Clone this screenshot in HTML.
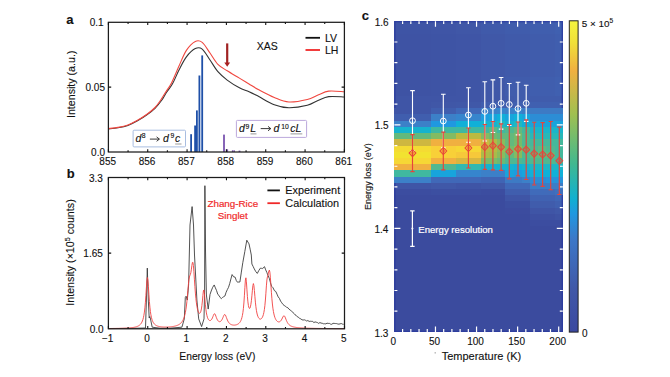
<!DOCTYPE html>
<html><head><meta charset="utf-8"><style>
html,body{margin:0;padding:0;background:#fff;width:670px;height:377px;overflow:hidden}
svg{display:block;font-family:"Liberation Sans",sans-serif}
</style></head><body>
<svg width="670" height="377" viewBox="0 0 670 377">
<g fill="none" stroke-linejoin="round">
<path d="M108.40,129.00 C110.00,128.80 114.75,128.40 118.00,127.80 C121.25,127.20 124.65,126.57 127.90,125.40 C131.15,124.23 134.27,122.62 137.50,120.80 C140.73,118.98 144.38,116.58 147.30,114.50 C150.22,112.42 152.57,110.72 155.00,108.30 C157.43,105.88 160.05,102.55 161.90,100.00 C163.75,97.45 164.33,95.70 166.10,93.00 C167.87,90.30 170.35,87.63 172.50,83.80 C174.65,79.97 176.68,74.48 179.00,70.00 C181.32,65.52 183.68,60.47 186.40,56.90 C189.12,53.33 192.67,49.90 195.30,48.60 C197.93,47.30 199.75,47.20 202.20,49.10 C204.65,51.00 207.38,56.23 210.00,60.00 C212.62,63.77 215.03,68.35 217.90,71.70 C220.77,75.05 223.62,77.42 227.20,80.10 C230.78,82.78 235.75,85.87 239.40,87.80 C243.05,89.73 245.87,90.23 249.10,91.70 C252.33,93.17 254.60,94.43 258.80,96.60 C263.00,98.77 269.28,102.83 274.30,104.70 C279.32,106.57 283.40,107.70 288.90,107.80 C294.40,107.90 302.45,106.52 307.30,105.30 C312.15,104.08 314.43,101.95 318.00,100.50 C321.57,99.05 324.33,97.18 328.70,96.60 C333.07,96.02 341.62,96.93 344.20,97.00" stroke="#333" stroke-width="1.1"/>
<path d="M108.40,128.60 C110.00,128.40 114.75,128.00 118.00,127.40 C121.25,126.80 124.65,126.18 127.90,125.00 C131.15,123.82 134.27,122.13 137.50,120.30 C140.73,118.47 144.38,116.13 147.30,114.00 C150.22,111.87 152.82,109.75 155.00,107.50 C157.18,105.25 158.72,102.92 160.40,100.50 C162.08,98.08 163.25,95.93 165.10,93.00 C166.95,90.07 169.18,87.40 171.50,82.90 C173.82,78.40 176.52,71.42 179.00,66.00 C181.48,60.58 183.68,54.48 186.40,50.40 C189.12,46.32 192.67,42.83 195.30,41.50 C197.93,40.17 199.75,40.48 202.20,42.40 C204.65,44.32 207.38,49.35 210.00,53.00 C212.62,56.65 215.03,61.33 217.90,64.30 C220.77,67.27 223.62,68.50 227.20,70.80 C230.78,73.10 235.77,75.90 239.40,78.10 C243.03,80.30 245.77,82.05 249.00,84.00 C252.23,85.95 254.58,87.55 258.80,89.80 C263.02,92.05 269.28,95.47 274.30,97.50 C279.32,99.53 283.40,101.67 288.90,102.00 C294.40,102.33 302.45,100.67 307.30,99.50 C312.15,98.33 314.43,96.40 318.00,95.00 C321.57,93.60 324.33,91.65 328.70,91.10 C333.07,90.55 341.62,91.60 344.20,91.70" stroke="#f0473f" stroke-width="1.1"/>
</g>
<rect x="190.20" y="134.20" width="1.8" height="17.80" fill="#1f50a8"/>
<rect x="194.20" y="125.50" width="1.8" height="26.50" fill="#1f50a8"/>
<rect x="196.00" y="110.40" width="1.8" height="41.60" fill="#1f50a8"/>
<rect x="198.50" y="75.50" width="1.8" height="76.50" fill="#1f50a8"/>
<rect x="201.30" y="55.40" width="1.8" height="96.60" fill="#1f50a8"/>
<rect x="223.10" y="134.60" width="1.8" height="17.40" fill="#7a55b0"/>
<rect x="226.50" y="149.30" width="1.6" height="2.70" fill="#7a55b0"/>
<rect x="231.90" y="150.30" width="1.4" height="1.70" fill="#7a55b0"/>
<rect x="233.50" y="150.30" width="1.4" height="1.70" fill="#7a55b0"/>
<rect x="238.60" y="150.60" width="1.8" height="1.40" fill="#7a55b0"/>
<path d="M227.2,43.4 V63.5" stroke="#a02222" stroke-width="2.2"/>
<path d="M224.3,62.6 L230.1,62.6 L227.2,66.8 Z" fill="#a82020"/>
<rect x="108.4" y="22.3" width="235.99999999999997" height="129.7" fill="none" stroke="#1c1c1c" stroke-width="1.25"/>
<path d="M108.40,152.0 v-2.8 M108.40,22.3 v2.8 M128.07,152.0 v-1.8 M128.07,22.3 v1.8 M147.73,152.0 v-2.8 M147.73,22.3 v2.8 M167.40,152.0 v-1.8 M167.40,22.3 v1.8 M187.07,152.0 v-2.8 M187.07,22.3 v2.8 M206.73,152.0 v-1.8 M206.73,22.3 v1.8 M226.40,152.0 v-2.8 M226.40,22.3 v2.8 M246.07,152.0 v-1.8 M246.07,22.3 v1.8 M265.73,152.0 v-2.8 M265.73,22.3 v2.8 M285.40,152.0 v-1.8 M285.40,22.3 v1.8 M305.07,152.0 v-2.8 M305.07,22.3 v2.8 M324.73,152.0 v-1.8 M324.73,22.3 v1.8 M344.40,152.0 v-2.8 M344.40,22.3 v2.8 M108.4,87.15 h2.8 M344.4,87.15 h-2.8" stroke="#111" stroke-width="1.1"/>
<g fill="none" stroke-linejoin="round">
<path d="M108.40,328.60 L130.00,328.40 L145.50,328.00 L146.40,300.00 L147.30,268.10 L148.30,300.00 L149.20,318.00 L149.80,316.50 L150.50,319.00 L152.20,327.20 L160.00,328.20 L170.00,328.20 L181.90,327.20 L184.30,318.90 L185.30,297.50 L186.10,296.20 L187.30,300.00 L188.60,285.00 L189.30,255.00 L190.00,225.00 L192.10,206.60 L193.50,225.00 L194.50,255.00 L196.90,300.00 L198.70,318.90 L201.60,326.60 L204.00,318.90 L204.60,290.00 L204.90,185.70 L205.50,250.00 L206.40,295.00 L208.20,309.07 L210.00,294.55 L211.20,291.00 L212.70,287.29 L214.20,284.95 L215.40,287.89 L216.60,290.66 L217.80,294.41 L218.97,295.40 L220.13,297.51 L221.30,298.64 L222.50,297.47 L223.70,296.70 L224.90,296.02 L226.10,292.31 L227.30,289.64 L228.50,287.37 L229.70,283.62 L230.90,278.97 L232.10,274.57 L233.60,276.82 L235.10,277.11 L236.30,280.57 L237.50,282.23 L238.70,282.04 L239.90,282.00 L241.35,272.10 L242.80,262.61 L244.80,251.58 L246.80,240.21 L249.00,243.88 L250.15,249.18 L251.30,255.06 L251.90,264.03 L253.10,266.38 L254.30,268.92 L255.80,271.63 L257.30,273.41 L258.80,270.56 L260.30,268.21 L261.50,268.34 L262.70,268.44 L264.50,266.68 L265.70,269.86 L266.90,272.57 L268.10,275.70 L269.30,278.33 L270.45,282.64 L271.60,286.30 L273.00,287.72 L274.40,290.62 L275.80,291.50 L277.00,294.17 L278.20,296.89 L279.40,298.39 L280.60,301.11 L281.80,302.80 L283.00,304.49 L284.20,305.49 L285.40,306.12 L286.60,307.39 L287.78,307.66 L288.97,309.15 L290.15,310.02 L291.33,311.00 L292.52,311.84 L293.70,313.34 L294.88,314.68 L296.05,315.27 L297.22,316.71 L298.40,317.13 L299.58,318.44 L300.76,318.85 L301.94,319.78 L303.12,320.04 L304.30,319.82 L305.50,320.30 L306.70,321.02 L307.90,320.53 L309.10,321.45 L310.30,321.25 L311.50,321.36 L312.70,321.46 L313.90,322.56 L315.10,321.91 L316.30,322.24 L317.50,322.60 L318.70,323.41 L319.90,322.55 L321.09,323.09 L322.28,323.28 L323.47,323.78 L324.66,323.76 L325.85,323.87 L327.04,323.17 L328.23,323.41 L329.42,323.40 L330.61,324.14 L331.80,324.30 L332.99,323.31 L334.18,323.40 L335.37,323.53 L336.56,323.59 L337.75,323.98 L338.94,324.18 L340.13,323.81 L341.32,323.54 L342.51,324.13 L343.70,324.30" stroke="#333" stroke-width="0.85"/>
<path d="M108.40,328.51 L108.90,328.51 L109.40,328.50 L109.90,328.49 L110.40,328.49 L110.90,328.48 L111.40,328.48 L111.90,328.47 L112.40,328.46 L112.90,328.46 L113.40,328.45 L113.90,328.44 L114.40,328.43 L114.90,328.43 L115.40,328.42 L115.90,328.41 L116.40,328.40 L116.90,328.39 L117.40,328.38 L117.90,328.37 L118.40,328.36 L118.90,328.35 L119.40,328.34 L119.90,328.32 L120.40,328.31 L120.90,328.30 L121.40,328.28 L121.90,328.27 L122.40,328.25 L122.90,328.24 L123.40,328.22 L123.90,328.20 L124.40,328.18 L124.90,328.16 L125.40,328.14 L125.90,328.11 L126.40,328.09 L126.90,328.06 L127.40,328.03 L127.90,328.00 L128.40,327.97 L128.90,327.93 L129.40,327.89 L129.90,327.85 L130.40,327.81 L130.90,327.76 L131.40,327.70 L131.90,327.65 L132.40,327.58 L132.90,327.51 L133.40,327.44 L133.90,327.35 L134.40,327.26 L134.90,327.15 L135.40,327.03 L135.90,326.90 L136.40,326.75 L136.90,326.59 L137.40,326.39 L137.90,326.17 L138.40,325.92 L138.90,325.62 L139.40,325.27 L139.90,324.85 L140.40,324.36 L140.90,323.76 L141.40,323.02 L141.90,322.12 L142.40,320.99 L142.90,319.55 L143.40,317.69 L143.90,315.27 L144.40,312.07 L144.90,307.84 L145.40,302.29 L145.90,295.34 L146.40,287.51 L146.90,280.61 L147.40,277.53 L147.90,279.97 L148.40,286.54 L148.90,294.37 L149.40,301.46 L149.90,307.16 L150.40,311.52 L150.90,314.81 L151.40,317.30 L151.90,319.20 L152.40,320.66 L152.90,321.81 L153.40,322.72 L153.90,323.45 L154.40,324.05 L154.90,324.54 L155.40,324.94 L155.90,325.28 L156.40,325.56 L156.90,325.80 L157.40,326.01 L157.90,326.18 L158.40,326.33 L158.90,326.46 L159.40,326.57 L159.90,326.66 L160.40,326.74 L160.90,326.81 L161.40,326.87 L161.90,326.92 L162.40,326.96 L162.90,326.99 L163.40,327.02 L163.90,327.04 L164.40,327.05 L164.90,327.06 L165.40,327.07 L165.90,327.06 L166.40,327.06 L166.90,327.05 L167.40,327.03 L167.90,327.01 L168.40,326.99 L168.90,326.96 L169.40,326.92 L169.90,326.88 L170.40,326.84 L170.90,326.79 L171.40,326.73 L171.90,326.67 L172.40,326.60 L172.90,326.52 L173.40,326.43 L173.90,326.34 L174.40,326.23 L174.90,326.12 L175.40,325.99 L175.90,325.85 L176.40,325.69 L176.90,325.52 L177.40,325.32 L177.90,325.10 L178.40,324.86 L178.90,324.59 L179.40,324.28 L179.90,323.92 L180.40,323.52 L180.90,323.06 L181.40,322.53 L181.90,321.91 L182.40,321.18 L182.90,320.32 L183.40,319.30 L183.90,318.06 L184.40,316.56 L184.90,314.72 L185.40,312.43 L185.90,309.58 L186.40,306.02 L186.90,301.62 L187.40,296.35 L187.90,290.44 L188.40,284.60 L188.90,279.87 L189.40,276.97 L189.90,275.55 L190.40,274.41 L190.90,272.41 L191.40,269.21 L191.90,265.42 L192.40,262.52 L192.90,262.25 L193.40,265.52 L193.90,271.68 L194.40,279.18 L194.90,286.59 L195.40,293.11 L195.90,298.51 L196.40,302.82 L196.90,306.18 L197.40,308.75 L197.90,310.68 L198.40,312.05 L198.90,312.92 L199.40,313.32 L199.90,313.22 L200.40,312.56 L200.90,311.20 L201.40,308.96 L201.90,305.59 L202.40,300.97 L202.90,295.53 L203.40,290.99 L203.90,289.94 L204.40,293.29 L204.90,299.05 L205.40,304.79 L205.90,309.45 L206.40,312.92 L206.90,315.44 L207.40,317.25 L207.90,318.54 L208.40,319.45 L208.90,320.05 L209.40,320.41 L209.90,320.55 L210.40,320.48 L210.90,320.20 L211.40,319.70 L211.90,318.94 L212.40,317.93 L212.90,316.71 L213.40,315.40 L213.90,314.28 L214.40,313.71 L214.90,313.93 L215.40,314.86 L215.90,316.20 L216.40,317.60 L216.90,318.86 L217.40,319.87 L217.90,320.64 L218.40,321.18 L218.90,321.52 L219.40,321.68 L219.90,321.67 L220.40,321.48 L220.90,321.12 L221.40,320.56 L221.90,319.80 L222.40,318.82 L222.90,317.67 L223.40,316.45 L223.90,315.33 L224.40,314.60 L224.90,314.50 L225.40,315.08 L225.90,316.17 L226.40,317.52 L226.90,318.88 L227.40,320.11 L227.90,321.16 L228.40,322.04 L228.90,322.74 L229.40,323.31 L229.90,323.77 L230.40,324.13 L230.90,324.42 L231.40,324.64 L231.90,324.82 L232.40,324.94 L232.90,325.03 L233.40,325.09 L233.90,325.11 L234.40,325.11 L234.90,325.07 L235.40,325.00 L235.90,324.90 L236.40,324.77 L236.90,324.60 L237.40,324.39 L237.90,324.12 L238.40,323.80 L238.90,323.40 L239.40,322.90 L239.90,322.29 L240.40,321.52 L240.90,320.55 L241.40,319.29 L241.90,317.65 L242.40,315.47 L242.90,312.52 L243.40,308.48 L243.90,302.98 L244.40,295.75 L244.90,287.33 L245.40,280.08 L245.90,277.81 L246.40,281.84 L246.90,289.20 L247.40,296.37 L247.90,301.84 L248.40,305.49 L248.90,307.60 L249.40,308.44 L249.90,308.18 L250.40,306.83 L250.90,304.34 L251.40,300.64 L251.90,295.77 L252.40,290.26 L252.90,285.52 L253.40,283.57 L253.90,285.54 L254.40,290.53 L254.90,296.56 L255.40,302.16 L255.90,306.76 L256.40,310.31 L256.90,312.99 L257.40,314.99 L257.90,316.46 L258.40,317.53 L258.90,318.29 L259.40,318.78 L259.90,319.04 L260.40,319.11 L260.90,318.98 L261.40,318.64 L261.90,318.08 L262.40,317.25 L262.90,316.09 L263.40,314.50 L263.90,312.34 L264.40,309.39 L264.90,305.38 L265.40,300.00 L265.90,293.22 L266.40,285.88 L266.90,279.99 L267.40,276.87 L267.90,275.25 L268.40,273.28 L268.90,270.99 L269.40,270.09 L269.90,272.30 L270.40,277.76 L270.90,284.99 L271.40,292.31 L271.90,298.75 L272.40,304.01 L272.90,308.18 L273.40,311.42 L273.90,313.96 L274.40,315.94 L274.90,317.49 L275.40,318.71 L275.90,319.68 L276.40,320.43 L276.90,321.01 L277.40,321.43 L277.90,321.72 L278.40,321.89 L278.90,321.93 L279.40,321.84 L279.90,321.61 L280.40,321.23 L280.90,320.67 L281.40,319.94 L281.90,319.03 L282.40,317.99 L282.90,316.95 L283.40,316.12 L283.90,315.72 L284.40,315.93 L284.90,316.71 L285.40,317.86 L285.90,319.16 L286.40,320.42 L286.90,321.55 L287.40,322.51 L287.90,323.32 L288.40,323.99 L288.90,324.55 L289.40,325.01 L289.90,325.39 L290.40,325.72 L290.90,325.99 L291.40,326.23 L291.90,326.43 L292.40,326.61 L292.90,326.76 L293.40,326.90 L293.90,327.02 L294.40,327.12 L294.90,327.22 L295.40,327.31 L295.90,327.38 L296.40,327.46 L296.90,327.52 L297.40,327.58 L297.90,327.63 L298.40,327.68 L298.90,327.73 L299.40,327.77 L299.90,327.81 L300.40,327.85 L300.90,327.89 L301.40,327.92 L301.90,327.95 L302.40,327.98 L302.90,328.00 L303.40,328.03 L303.90,328.05 L304.40,328.08 L304.90,328.10 L305.40,328.12 L305.90,328.14 L306.40,328.16 L306.90,328.17 L307.40,328.19 L307.90,328.21 L308.40,328.22 L308.90,328.24 L309.40,328.25 L309.90,328.26 L310.40,328.28 L310.90,328.29 L311.40,328.30 L311.90,328.31 L312.40,328.32 L312.90,328.33 L313.40,328.34 L313.90,328.35 L314.40,328.36 L314.90,328.37 L315.40,328.38 L315.90,328.39 L316.40,328.40 L316.90,328.40 L317.40,328.41 L317.90,328.42 L318.40,328.43 L318.90,328.43 L319.40,328.44 L319.90,328.45 L320.40,328.45 L320.90,328.46 L321.40,328.46 L321.90,328.47 L322.40,328.48 L322.90,328.48 L323.40,328.49 L323.90,328.49 L324.40,328.50 L324.90,328.50 L325.40,328.51 L325.90,328.51 L326.40,328.52 L326.90,328.52 L327.40,328.52 L327.90,328.53 L328.40,328.53 L328.90,328.54 L329.40,328.54 L329.90,328.54 L330.40,328.55 L330.90,328.55 L331.40,328.55 L331.90,328.56 L332.40,328.56 L332.90,328.56 L333.40,328.57 L333.90,328.57 L334.40,328.57 L334.90,328.58 L335.40,328.58 L335.90,328.58 L336.40,328.59 L336.90,328.59 L337.40,328.59 L337.90,328.59 L338.40,328.60 L338.90,328.60 L339.40,328.60 L339.90,328.60 L340.40,328.61 L340.90,328.61 L341.40,328.61 L341.90,328.61 L342.40,328.61 L342.90,328.62 L343.40,328.62 L343.90,328.62 L344.40,328.62" stroke="#f04040" stroke-width="0.9"/>
</g>
<rect x="108.4" y="177.5" width="236.1" height="151.3" fill="none" stroke="#1c1c1c" stroke-width="1.25"/>
<path d="M108.40,328.8 v-2.8 M108.40,177.5 v2.8 M128.08,328.8 v-1.8 M128.08,177.5 v1.8 M147.75,328.8 v-2.8 M147.75,177.5 v2.8 M167.43,328.8 v-1.8 M167.43,177.5 v1.8 M187.10,328.8 v-2.8 M187.10,177.5 v2.8 M206.78,328.8 v-1.8 M206.78,177.5 v1.8 M226.45,328.8 v-2.8 M226.45,177.5 v2.8 M246.12,328.8 v-1.8 M246.12,177.5 v1.8 M265.80,328.8 v-2.8 M265.80,177.5 v2.8 M285.48,328.8 v-1.8 M285.48,177.5 v1.8 M305.15,328.8 v-2.8 M305.15,177.5 v2.8 M324.82,328.8 v-1.8 M324.82,177.5 v1.8 M344.50,328.8 v-2.8 M344.50,177.5 v2.8 M108.4,253.15 h2.8 M344.5,253.15 h-2.8" stroke="#111" stroke-width="1.1"/>
<g shape-rendering="crispEdges">
<rect x="394.40" y="21.30" width="37.27" height="6.51" fill="#3e54a5"/>
<rect x="394.40" y="27.51" width="37.27" height="6.51" fill="#3e54a5"/>
<rect x="394.40" y="33.72" width="37.27" height="6.51" fill="#3e53a4"/>
<rect x="394.40" y="39.94" width="37.27" height="6.51" fill="#3e53a4"/>
<rect x="394.40" y="46.15" width="37.27" height="6.51" fill="#3e53a4"/>
<rect x="394.40" y="52.36" width="37.27" height="6.51" fill="#3e53a4"/>
<rect x="394.40" y="58.57" width="37.27" height="6.51" fill="#3e53a4"/>
<rect x="394.40" y="64.78" width="37.27" height="6.51" fill="#3e53a4"/>
<rect x="394.40" y="71.00" width="37.27" height="6.51" fill="#3e53a4"/>
<rect x="394.40" y="77.21" width="37.27" height="6.51" fill="#3e53a4"/>
<rect x="394.40" y="83.42" width="37.27" height="6.51" fill="#3e53a4"/>
<rect x="394.40" y="89.63" width="37.27" height="6.51" fill="#3e53a4"/>
<rect x="394.40" y="95.84" width="37.27" height="6.51" fill="#3f55a6"/>
<rect x="394.40" y="102.06" width="37.27" height="6.51" fill="#3f55a6"/>
<rect x="394.40" y="108.27" width="37.27" height="6.51" fill="#3f55a6"/>
<rect x="394.40" y="114.48" width="37.27" height="6.51" fill="#405eae"/>
<rect x="394.40" y="120.69" width="37.27" height="6.51" fill="#3c80c8"/>
<rect x="394.40" y="126.90" width="37.27" height="6.51" fill="#16b3ce"/>
<rect x="394.40" y="133.12" width="37.27" height="6.51" fill="#63b97d"/>
<rect x="394.40" y="139.33" width="37.27" height="6.51" fill="#ceb740"/>
<rect x="394.40" y="145.54" width="37.27" height="6.51" fill="#f4db33"/>
<rect x="394.40" y="151.75" width="37.27" height="6.51" fill="#f2e230"/>
<rect x="394.40" y="157.96" width="37.27" height="6.51" fill="#f6d735"/>
<rect x="394.40" y="164.18" width="37.27" height="6.51" fill="#f0b040"/>
<rect x="394.40" y="170.39" width="37.27" height="6.51" fill="#40b8a0"/>
<rect x="394.40" y="176.60" width="37.27" height="6.51" fill="#3c80c8"/>
<rect x="394.40" y="182.81" width="37.27" height="6.51" fill="#3f55a6"/>
<rect x="394.40" y="189.02" width="37.27" height="6.51" fill="#3c4da0"/>
<rect x="394.40" y="195.24" width="37.27" height="6.51" fill="#3b4b9e"/>
<rect x="394.40" y="201.45" width="37.27" height="6.51" fill="#3b4b9e"/>
<rect x="394.40" y="207.66" width="37.27" height="6.51" fill="#3b4b9e"/>
<rect x="394.40" y="213.87" width="37.27" height="6.51" fill="#3b4b9e"/>
<rect x="394.40" y="220.08" width="37.27" height="6.51" fill="#3b4b9e"/>
<rect x="394.40" y="226.30" width="37.27" height="6.51" fill="#3b4b9e"/>
<rect x="394.40" y="232.51" width="37.27" height="6.51" fill="#3b4b9e"/>
<rect x="394.40" y="238.72" width="37.27" height="6.51" fill="#3b4b9e"/>
<rect x="394.40" y="244.93" width="37.27" height="6.51" fill="#3b4b9e"/>
<rect x="394.40" y="251.14" width="37.27" height="6.51" fill="#3b4b9e"/>
<rect x="394.40" y="257.36" width="37.27" height="6.51" fill="#3b4b9e"/>
<rect x="394.40" y="263.57" width="37.27" height="6.51" fill="#3b4b9e"/>
<rect x="394.40" y="269.78" width="37.27" height="6.51" fill="#3b4b9e"/>
<rect x="394.40" y="275.99" width="37.27" height="6.51" fill="#3b4b9e"/>
<rect x="394.40" y="282.20" width="37.27" height="6.51" fill="#3b4b9e"/>
<rect x="394.40" y="288.42" width="37.27" height="6.51" fill="#3b4b9e"/>
<rect x="394.40" y="294.63" width="37.27" height="6.51" fill="#3b4b9e"/>
<rect x="394.40" y="300.84" width="37.27" height="6.51" fill="#3b4b9e"/>
<rect x="394.40" y="307.05" width="37.27" height="6.51" fill="#3b4b9e"/>
<rect x="394.40" y="313.26" width="37.27" height="6.51" fill="#3b4b9e"/>
<rect x="394.40" y="319.48" width="37.27" height="6.51" fill="#3b4b9e"/>
<rect x="394.40" y="325.69" width="37.27" height="6.51" fill="#3b4b9e"/>
<rect x="431.37" y="21.30" width="24.94" height="6.51" fill="#3f55a6"/>
<rect x="431.37" y="27.51" width="24.94" height="6.51" fill="#3f55a6"/>
<rect x="431.37" y="33.72" width="24.94" height="6.51" fill="#3e54a5"/>
<rect x="431.37" y="39.94" width="24.94" height="6.51" fill="#3e54a5"/>
<rect x="431.37" y="46.15" width="24.94" height="6.51" fill="#3e54a5"/>
<rect x="431.37" y="52.36" width="24.94" height="6.51" fill="#3e54a5"/>
<rect x="431.37" y="58.57" width="24.94" height="6.51" fill="#3e54a5"/>
<rect x="431.37" y="64.78" width="24.94" height="6.51" fill="#3e54a5"/>
<rect x="431.37" y="71.00" width="24.94" height="6.51" fill="#3e54a5"/>
<rect x="431.37" y="77.21" width="24.94" height="6.51" fill="#3e54a5"/>
<rect x="431.37" y="83.42" width="24.94" height="6.51" fill="#3e54a5"/>
<rect x="431.37" y="89.63" width="24.94" height="6.51" fill="#3e54a5"/>
<rect x="431.37" y="95.84" width="24.94" height="6.51" fill="#3f55a6"/>
<rect x="431.37" y="102.06" width="24.94" height="6.51" fill="#4057a7"/>
<rect x="431.37" y="108.27" width="24.94" height="6.51" fill="#405eae"/>
<rect x="431.37" y="114.48" width="24.94" height="6.51" fill="#3c80c8"/>
<rect x="431.37" y="120.69" width="24.94" height="6.51" fill="#2098e0"/>
<rect x="431.37" y="126.90" width="24.94" height="6.51" fill="#40b8a0"/>
<rect x="431.37" y="133.12" width="24.94" height="6.51" fill="#83bb62"/>
<rect x="431.37" y="139.33" width="24.94" height="6.51" fill="#f0b040"/>
<rect x="431.37" y="145.54" width="24.94" height="6.51" fill="#f8d038"/>
<rect x="431.37" y="151.75" width="24.94" height="6.51" fill="#f8d038"/>
<rect x="431.37" y="157.96" width="24.94" height="6.51" fill="#f0b040"/>
<rect x="431.37" y="164.18" width="24.94" height="6.51" fill="#50b890"/>
<rect x="431.37" y="170.39" width="24.94" height="6.51" fill="#18a4dc"/>
<rect x="431.37" y="176.60" width="24.94" height="6.51" fill="#4068b8"/>
<rect x="431.37" y="182.81" width="24.94" height="6.51" fill="#4058a8"/>
<rect x="431.37" y="189.02" width="24.94" height="6.51" fill="#3c4fa1"/>
<rect x="431.37" y="195.24" width="24.94" height="6.51" fill="#3b4b9e"/>
<rect x="431.37" y="201.45" width="24.94" height="6.51" fill="#3b4b9e"/>
<rect x="431.37" y="207.66" width="24.94" height="6.51" fill="#3b4b9e"/>
<rect x="431.37" y="213.87" width="24.94" height="6.51" fill="#3b4b9e"/>
<rect x="431.37" y="220.08" width="24.94" height="6.51" fill="#3b4b9e"/>
<rect x="431.37" y="226.30" width="24.94" height="6.51" fill="#3b4b9e"/>
<rect x="431.37" y="232.51" width="24.94" height="6.51" fill="#3b4b9e"/>
<rect x="431.37" y="238.72" width="24.94" height="6.51" fill="#3b4b9e"/>
<rect x="431.37" y="244.93" width="24.94" height="6.51" fill="#3b4b9e"/>
<rect x="431.37" y="251.14" width="24.94" height="6.51" fill="#3b4b9e"/>
<rect x="431.37" y="257.36" width="24.94" height="6.51" fill="#3b4b9e"/>
<rect x="431.37" y="263.57" width="24.94" height="6.51" fill="#3b4b9e"/>
<rect x="431.37" y="269.78" width="24.94" height="6.51" fill="#3b4b9e"/>
<rect x="431.37" y="275.99" width="24.94" height="6.51" fill="#3b4b9e"/>
<rect x="431.37" y="282.20" width="24.94" height="6.51" fill="#3b4b9e"/>
<rect x="431.37" y="288.42" width="24.94" height="6.51" fill="#3b4b9e"/>
<rect x="431.37" y="294.63" width="24.94" height="6.51" fill="#3b4b9e"/>
<rect x="431.37" y="300.84" width="24.94" height="6.51" fill="#3b4b9e"/>
<rect x="431.37" y="307.05" width="24.94" height="6.51" fill="#3b4b9e"/>
<rect x="431.37" y="313.26" width="24.94" height="6.51" fill="#3b4b9e"/>
<rect x="431.37" y="319.48" width="24.94" height="6.51" fill="#3b4b9e"/>
<rect x="431.37" y="325.69" width="24.94" height="6.51" fill="#3b4b9e"/>
<rect x="456.01" y="21.30" width="24.94" height="6.51" fill="#4057a7"/>
<rect x="456.01" y="27.51" width="24.94" height="6.51" fill="#4057a7"/>
<rect x="456.01" y="33.72" width="24.94" height="6.51" fill="#3f55a6"/>
<rect x="456.01" y="39.94" width="24.94" height="6.51" fill="#3f55a6"/>
<rect x="456.01" y="46.15" width="24.94" height="6.51" fill="#3f55a6"/>
<rect x="456.01" y="52.36" width="24.94" height="6.51" fill="#3f55a6"/>
<rect x="456.01" y="58.57" width="24.94" height="6.51" fill="#3f55a6"/>
<rect x="456.01" y="64.78" width="24.94" height="6.51" fill="#3f55a6"/>
<rect x="456.01" y="71.00" width="24.94" height="6.51" fill="#3f55a6"/>
<rect x="456.01" y="77.21" width="24.94" height="6.51" fill="#3f55a6"/>
<rect x="456.01" y="83.42" width="24.94" height="6.51" fill="#3f55a6"/>
<rect x="456.01" y="89.63" width="24.94" height="6.51" fill="#3f55a6"/>
<rect x="456.01" y="95.84" width="24.94" height="6.51" fill="#3f55a6"/>
<rect x="456.01" y="102.06" width="24.94" height="6.51" fill="#4058a8"/>
<rect x="456.01" y="108.27" width="24.94" height="6.51" fill="#4068b8"/>
<rect x="456.01" y="114.48" width="24.94" height="6.51" fill="#3685cd"/>
<rect x="456.01" y="120.69" width="24.94" height="6.51" fill="#10b0d8"/>
<rect x="456.01" y="126.90" width="24.94" height="6.51" fill="#40b8a0"/>
<rect x="456.01" y="133.12" width="24.94" height="6.51" fill="#baba40"/>
<rect x="456.01" y="139.33" width="24.94" height="6.51" fill="#f0b040"/>
<rect x="456.01" y="145.54" width="24.94" height="6.51" fill="#f6d735"/>
<rect x="456.01" y="151.75" width="24.94" height="6.51" fill="#f6c83a"/>
<rect x="456.01" y="157.96" width="24.94" height="6.51" fill="#d8b640"/>
<rect x="456.01" y="164.18" width="24.94" height="6.51" fill="#30b8b0"/>
<rect x="456.01" y="170.39" width="24.94" height="6.51" fill="#3685cd"/>
<rect x="456.01" y="176.60" width="24.94" height="6.51" fill="#4068b8"/>
<rect x="456.01" y="182.81" width="24.94" height="6.51" fill="#3f55a6"/>
<rect x="456.01" y="189.02" width="24.94" height="6.51" fill="#3c4fa1"/>
<rect x="456.01" y="195.24" width="24.94" height="6.51" fill="#3b4b9e"/>
<rect x="456.01" y="201.45" width="24.94" height="6.51" fill="#3b4b9e"/>
<rect x="456.01" y="207.66" width="24.94" height="6.51" fill="#3b4b9e"/>
<rect x="456.01" y="213.87" width="24.94" height="6.51" fill="#3b4b9e"/>
<rect x="456.01" y="220.08" width="24.94" height="6.51" fill="#3b4b9e"/>
<rect x="456.01" y="226.30" width="24.94" height="6.51" fill="#3b4b9e"/>
<rect x="456.01" y="232.51" width="24.94" height="6.51" fill="#3b4b9e"/>
<rect x="456.01" y="238.72" width="24.94" height="6.51" fill="#3b4b9e"/>
<rect x="456.01" y="244.93" width="24.94" height="6.51" fill="#3b4b9e"/>
<rect x="456.01" y="251.14" width="24.94" height="6.51" fill="#3b4b9e"/>
<rect x="456.01" y="257.36" width="24.94" height="6.51" fill="#3b4b9e"/>
<rect x="456.01" y="263.57" width="24.94" height="6.51" fill="#3b4b9e"/>
<rect x="456.01" y="269.78" width="24.94" height="6.51" fill="#3b4b9e"/>
<rect x="456.01" y="275.99" width="24.94" height="6.51" fill="#3b4b9e"/>
<rect x="456.01" y="282.20" width="24.94" height="6.51" fill="#3b4b9e"/>
<rect x="456.01" y="288.42" width="24.94" height="6.51" fill="#3b4b9e"/>
<rect x="456.01" y="294.63" width="24.94" height="6.51" fill="#3b4b9e"/>
<rect x="456.01" y="300.84" width="24.94" height="6.51" fill="#3b4b9e"/>
<rect x="456.01" y="307.05" width="24.94" height="6.51" fill="#3b4b9e"/>
<rect x="456.01" y="313.26" width="24.94" height="6.51" fill="#3b4b9e"/>
<rect x="456.01" y="319.48" width="24.94" height="6.51" fill="#3b4b9e"/>
<rect x="456.01" y="325.69" width="24.94" height="6.51" fill="#3b4b9e"/>
<rect x="480.65" y="21.30" width="8.51" height="6.51" fill="#405aaa"/>
<rect x="480.65" y="27.51" width="8.51" height="6.51" fill="#405aaa"/>
<rect x="480.65" y="33.72" width="8.51" height="6.51" fill="#4058a8"/>
<rect x="480.65" y="39.94" width="8.51" height="6.51" fill="#4058a8"/>
<rect x="480.65" y="46.15" width="8.51" height="6.51" fill="#4058a8"/>
<rect x="480.65" y="52.36" width="8.51" height="6.51" fill="#4058a8"/>
<rect x="480.65" y="58.57" width="8.51" height="6.51" fill="#4058a8"/>
<rect x="480.65" y="64.78" width="8.51" height="6.51" fill="#4058a8"/>
<rect x="480.65" y="71.00" width="8.51" height="6.51" fill="#4058a8"/>
<rect x="480.65" y="77.21" width="8.51" height="6.51" fill="#4058a8"/>
<rect x="480.65" y="83.42" width="8.51" height="6.51" fill="#4058a8"/>
<rect x="480.65" y="89.63" width="8.51" height="6.51" fill="#4058a8"/>
<rect x="480.65" y="95.84" width="8.51" height="6.51" fill="#4058a8"/>
<rect x="480.65" y="102.06" width="8.51" height="6.51" fill="#405eae"/>
<rect x="480.65" y="108.27" width="8.51" height="6.51" fill="#3c80c8"/>
<rect x="480.65" y="114.48" width="8.51" height="6.51" fill="#1d9cdf"/>
<rect x="480.65" y="120.69" width="8.51" height="6.51" fill="#16b3ce"/>
<rect x="480.65" y="126.90" width="8.51" height="6.51" fill="#40b8a0"/>
<rect x="480.65" y="133.12" width="8.51" height="6.51" fill="#83bb62"/>
<rect x="480.65" y="139.33" width="8.51" height="6.51" fill="#ceb740"/>
<rect x="480.65" y="145.54" width="8.51" height="6.51" fill="#baba40"/>
<rect x="480.65" y="151.75" width="8.51" height="6.51" fill="#aebb47"/>
<rect x="480.65" y="157.96" width="8.51" height="6.51" fill="#7dbb67"/>
<rect x="480.65" y="164.18" width="8.51" height="6.51" fill="#16b3ce"/>
<rect x="480.65" y="170.39" width="8.51" height="6.51" fill="#3c80c8"/>
<rect x="480.65" y="176.60" width="8.51" height="6.51" fill="#4064b4"/>
<rect x="480.65" y="182.81" width="8.51" height="6.51" fill="#4058a8"/>
<rect x="480.65" y="189.02" width="8.51" height="6.51" fill="#3c4da0"/>
<rect x="480.65" y="195.24" width="8.51" height="6.51" fill="#3b4b9e"/>
<rect x="480.65" y="201.45" width="8.51" height="6.51" fill="#3b4b9e"/>
<rect x="480.65" y="207.66" width="8.51" height="6.51" fill="#3b4b9e"/>
<rect x="480.65" y="213.87" width="8.51" height="6.51" fill="#3b4b9e"/>
<rect x="480.65" y="220.08" width="8.51" height="6.51" fill="#3b4b9e"/>
<rect x="480.65" y="226.30" width="8.51" height="6.51" fill="#3b4b9e"/>
<rect x="480.65" y="232.51" width="8.51" height="6.51" fill="#3b4b9e"/>
<rect x="480.65" y="238.72" width="8.51" height="6.51" fill="#3b4b9e"/>
<rect x="480.65" y="244.93" width="8.51" height="6.51" fill="#3b4b9e"/>
<rect x="480.65" y="251.14" width="8.51" height="6.51" fill="#3b4b9e"/>
<rect x="480.65" y="257.36" width="8.51" height="6.51" fill="#3b4b9e"/>
<rect x="480.65" y="263.57" width="8.51" height="6.51" fill="#3b4b9e"/>
<rect x="480.65" y="269.78" width="8.51" height="6.51" fill="#3b4b9e"/>
<rect x="480.65" y="275.99" width="8.51" height="6.51" fill="#3b4b9e"/>
<rect x="480.65" y="282.20" width="8.51" height="6.51" fill="#3b4b9e"/>
<rect x="480.65" y="288.42" width="8.51" height="6.51" fill="#3b4b9e"/>
<rect x="480.65" y="294.63" width="8.51" height="6.51" fill="#3b4b9e"/>
<rect x="480.65" y="300.84" width="8.51" height="6.51" fill="#3b4b9e"/>
<rect x="480.65" y="307.05" width="8.51" height="6.51" fill="#3b4b9e"/>
<rect x="480.65" y="313.26" width="8.51" height="6.51" fill="#3b4b9e"/>
<rect x="480.65" y="319.48" width="8.51" height="6.51" fill="#3b4b9e"/>
<rect x="480.65" y="325.69" width="8.51" height="6.51" fill="#3b4b9e"/>
<rect x="488.87" y="21.30" width="8.51" height="6.51" fill="#405aaa"/>
<rect x="488.87" y="27.51" width="8.51" height="6.51" fill="#405aaa"/>
<rect x="488.87" y="33.72" width="8.51" height="6.51" fill="#4058a8"/>
<rect x="488.87" y="39.94" width="8.51" height="6.51" fill="#4058a8"/>
<rect x="488.87" y="46.15" width="8.51" height="6.51" fill="#4058a8"/>
<rect x="488.87" y="52.36" width="8.51" height="6.51" fill="#4058a8"/>
<rect x="488.87" y="58.57" width="8.51" height="6.51" fill="#4058a8"/>
<rect x="488.87" y="64.78" width="8.51" height="6.51" fill="#4058a8"/>
<rect x="488.87" y="71.00" width="8.51" height="6.51" fill="#4058a8"/>
<rect x="488.87" y="77.21" width="8.51" height="6.51" fill="#4058a8"/>
<rect x="488.87" y="83.42" width="8.51" height="6.51" fill="#4058a8"/>
<rect x="488.87" y="89.63" width="8.51" height="6.51" fill="#4058a8"/>
<rect x="488.87" y="95.84" width="8.51" height="6.51" fill="#4058a8"/>
<rect x="488.87" y="102.06" width="8.51" height="6.51" fill="#405eae"/>
<rect x="488.87" y="108.27" width="8.51" height="6.51" fill="#3c80c8"/>
<rect x="488.87" y="114.48" width="8.51" height="6.51" fill="#18a4dc"/>
<rect x="488.87" y="120.69" width="8.51" height="6.51" fill="#16b3ce"/>
<rect x="488.87" y="126.90" width="8.51" height="6.51" fill="#5db983"/>
<rect x="488.87" y="133.12" width="8.51" height="6.51" fill="#70ba70"/>
<rect x="488.87" y="139.33" width="8.51" height="6.51" fill="#aebb47"/>
<rect x="488.87" y="145.54" width="8.51" height="6.51" fill="#b4ba43"/>
<rect x="488.87" y="151.75" width="8.51" height="6.51" fill="#a8bb4a"/>
<rect x="488.87" y="157.96" width="8.51" height="6.51" fill="#7dbb67"/>
<rect x="488.87" y="164.18" width="8.51" height="6.51" fill="#16b3ce"/>
<rect x="488.87" y="170.39" width="8.51" height="6.51" fill="#3c80c8"/>
<rect x="488.87" y="176.60" width="8.51" height="6.51" fill="#4064b4"/>
<rect x="488.87" y="182.81" width="8.51" height="6.51" fill="#4058a8"/>
<rect x="488.87" y="189.02" width="8.51" height="6.51" fill="#3c4da0"/>
<rect x="488.87" y="195.24" width="8.51" height="6.51" fill="#3b4b9e"/>
<rect x="488.87" y="201.45" width="8.51" height="6.51" fill="#3b4b9e"/>
<rect x="488.87" y="207.66" width="8.51" height="6.51" fill="#3b4b9e"/>
<rect x="488.87" y="213.87" width="8.51" height="6.51" fill="#3b4b9e"/>
<rect x="488.87" y="220.08" width="8.51" height="6.51" fill="#3b4b9e"/>
<rect x="488.87" y="226.30" width="8.51" height="6.51" fill="#3b4b9e"/>
<rect x="488.87" y="232.51" width="8.51" height="6.51" fill="#3b4b9e"/>
<rect x="488.87" y="238.72" width="8.51" height="6.51" fill="#3b4b9e"/>
<rect x="488.87" y="244.93" width="8.51" height="6.51" fill="#3b4b9e"/>
<rect x="488.87" y="251.14" width="8.51" height="6.51" fill="#3b4b9e"/>
<rect x="488.87" y="257.36" width="8.51" height="6.51" fill="#3b4b9e"/>
<rect x="488.87" y="263.57" width="8.51" height="6.51" fill="#3b4b9e"/>
<rect x="488.87" y="269.78" width="8.51" height="6.51" fill="#3b4b9e"/>
<rect x="488.87" y="275.99" width="8.51" height="6.51" fill="#3b4b9e"/>
<rect x="488.87" y="282.20" width="8.51" height="6.51" fill="#3b4b9e"/>
<rect x="488.87" y="288.42" width="8.51" height="6.51" fill="#3b4b9e"/>
<rect x="488.87" y="294.63" width="8.51" height="6.51" fill="#3b4b9e"/>
<rect x="488.87" y="300.84" width="8.51" height="6.51" fill="#3b4b9e"/>
<rect x="488.87" y="307.05" width="8.51" height="6.51" fill="#3b4b9e"/>
<rect x="488.87" y="313.26" width="8.51" height="6.51" fill="#3b4b9e"/>
<rect x="488.87" y="319.48" width="8.51" height="6.51" fill="#3b4b9e"/>
<rect x="488.87" y="325.69" width="8.51" height="6.51" fill="#3b4b9e"/>
<rect x="497.08" y="21.30" width="8.51" height="6.51" fill="#405aaa"/>
<rect x="497.08" y="27.51" width="8.51" height="6.51" fill="#405aaa"/>
<rect x="497.08" y="33.72" width="8.51" height="6.51" fill="#4058a8"/>
<rect x="497.08" y="39.94" width="8.51" height="6.51" fill="#4058a8"/>
<rect x="497.08" y="46.15" width="8.51" height="6.51" fill="#4058a8"/>
<rect x="497.08" y="52.36" width="8.51" height="6.51" fill="#4058a8"/>
<rect x="497.08" y="58.57" width="8.51" height="6.51" fill="#4058a8"/>
<rect x="497.08" y="64.78" width="8.51" height="6.51" fill="#4058a8"/>
<rect x="497.08" y="71.00" width="8.51" height="6.51" fill="#4058a8"/>
<rect x="497.08" y="77.21" width="8.51" height="6.51" fill="#4058a8"/>
<rect x="497.08" y="83.42" width="8.51" height="6.51" fill="#4058a8"/>
<rect x="497.08" y="89.63" width="8.51" height="6.51" fill="#4058a8"/>
<rect x="497.08" y="95.84" width="8.51" height="6.51" fill="#4058a8"/>
<rect x="497.08" y="102.06" width="8.51" height="6.51" fill="#4060b0"/>
<rect x="497.08" y="108.27" width="8.51" height="6.51" fill="#3685cd"/>
<rect x="497.08" y="114.48" width="8.51" height="6.51" fill="#10b0d8"/>
<rect x="497.08" y="120.69" width="8.51" height="6.51" fill="#20b8c0"/>
<rect x="497.08" y="126.90" width="8.51" height="6.51" fill="#40b8a0"/>
<rect x="497.08" y="133.12" width="8.51" height="6.51" fill="#63b97d"/>
<rect x="497.08" y="139.33" width="8.51" height="6.51" fill="#89bb5d"/>
<rect x="497.08" y="145.54" width="8.51" height="6.51" fill="#96bc54"/>
<rect x="497.08" y="151.75" width="8.51" height="6.51" fill="#89bb5d"/>
<rect x="497.08" y="157.96" width="8.51" height="6.51" fill="#6aba76"/>
<rect x="497.08" y="164.18" width="8.51" height="6.51" fill="#16b3ce"/>
<rect x="497.08" y="170.39" width="8.51" height="6.51" fill="#3c80c8"/>
<rect x="497.08" y="176.60" width="8.51" height="6.51" fill="#4064b4"/>
<rect x="497.08" y="182.81" width="8.51" height="6.51" fill="#4058a8"/>
<rect x="497.08" y="189.02" width="8.51" height="6.51" fill="#3c4da0"/>
<rect x="497.08" y="195.24" width="8.51" height="6.51" fill="#3b4b9e"/>
<rect x="497.08" y="201.45" width="8.51" height="6.51" fill="#3b4b9e"/>
<rect x="497.08" y="207.66" width="8.51" height="6.51" fill="#3b4b9e"/>
<rect x="497.08" y="213.87" width="8.51" height="6.51" fill="#3b4b9e"/>
<rect x="497.08" y="220.08" width="8.51" height="6.51" fill="#3b4b9e"/>
<rect x="497.08" y="226.30" width="8.51" height="6.51" fill="#3b4b9e"/>
<rect x="497.08" y="232.51" width="8.51" height="6.51" fill="#3b4b9e"/>
<rect x="497.08" y="238.72" width="8.51" height="6.51" fill="#3b4b9e"/>
<rect x="497.08" y="244.93" width="8.51" height="6.51" fill="#3b4b9e"/>
<rect x="497.08" y="251.14" width="8.51" height="6.51" fill="#3b4b9e"/>
<rect x="497.08" y="257.36" width="8.51" height="6.51" fill="#3b4b9e"/>
<rect x="497.08" y="263.57" width="8.51" height="6.51" fill="#3b4b9e"/>
<rect x="497.08" y="269.78" width="8.51" height="6.51" fill="#3b4b9e"/>
<rect x="497.08" y="275.99" width="8.51" height="6.51" fill="#3b4b9e"/>
<rect x="497.08" y="282.20" width="8.51" height="6.51" fill="#3b4b9e"/>
<rect x="497.08" y="288.42" width="8.51" height="6.51" fill="#3b4b9e"/>
<rect x="497.08" y="294.63" width="8.51" height="6.51" fill="#3b4b9e"/>
<rect x="497.08" y="300.84" width="8.51" height="6.51" fill="#3b4b9e"/>
<rect x="497.08" y="307.05" width="8.51" height="6.51" fill="#3b4b9e"/>
<rect x="497.08" y="313.26" width="8.51" height="6.51" fill="#3b4b9e"/>
<rect x="497.08" y="319.48" width="8.51" height="6.51" fill="#3b4b9e"/>
<rect x="497.08" y="325.69" width="8.51" height="6.51" fill="#3b4b9e"/>
<rect x="505.30" y="21.30" width="8.51" height="6.51" fill="#405cac"/>
<rect x="505.30" y="27.51" width="8.51" height="6.51" fill="#405cac"/>
<rect x="505.30" y="33.72" width="8.51" height="6.51" fill="#405aaa"/>
<rect x="505.30" y="39.94" width="8.51" height="6.51" fill="#405aaa"/>
<rect x="505.30" y="46.15" width="8.51" height="6.51" fill="#405aaa"/>
<rect x="505.30" y="52.36" width="8.51" height="6.51" fill="#405aaa"/>
<rect x="505.30" y="58.57" width="8.51" height="6.51" fill="#405aaa"/>
<rect x="505.30" y="64.78" width="8.51" height="6.51" fill="#405aaa"/>
<rect x="505.30" y="71.00" width="8.51" height="6.51" fill="#405aaa"/>
<rect x="505.30" y="77.21" width="8.51" height="6.51" fill="#405cac"/>
<rect x="505.30" y="83.42" width="8.51" height="6.51" fill="#405cac"/>
<rect x="505.30" y="89.63" width="8.51" height="6.51" fill="#405cac"/>
<rect x="505.30" y="95.84" width="8.51" height="6.51" fill="#405aaa"/>
<rect x="505.30" y="102.06" width="8.51" height="6.51" fill="#405eae"/>
<rect x="505.30" y="108.27" width="8.51" height="6.51" fill="#3c80c8"/>
<rect x="505.30" y="114.48" width="8.51" height="6.51" fill="#18a4dc"/>
<rect x="505.30" y="120.69" width="8.51" height="6.51" fill="#16b3ce"/>
<rect x="505.30" y="126.90" width="8.51" height="6.51" fill="#50b890"/>
<rect x="505.30" y="133.12" width="8.51" height="6.51" fill="#63b97d"/>
<rect x="505.30" y="139.33" width="8.51" height="6.51" fill="#63b97d"/>
<rect x="505.30" y="145.54" width="8.51" height="6.51" fill="#76ba6b"/>
<rect x="505.30" y="151.75" width="8.51" height="6.51" fill="#63b97d"/>
<rect x="505.30" y="157.96" width="8.51" height="6.51" fill="#50b890"/>
<rect x="505.30" y="164.18" width="8.51" height="6.51" fill="#16b3ce"/>
<rect x="505.30" y="170.39" width="8.51" height="6.51" fill="#18a4dc"/>
<rect x="505.30" y="176.60" width="8.51" height="6.51" fill="#3d7ac4"/>
<rect x="505.30" y="182.81" width="8.51" height="6.51" fill="#4068b8"/>
<rect x="505.30" y="189.02" width="8.51" height="6.51" fill="#405eae"/>
<rect x="505.30" y="195.24" width="8.51" height="6.51" fill="#3f55a6"/>
<rect x="505.30" y="201.45" width="8.51" height="6.51" fill="#3c4fa1"/>
<rect x="505.30" y="207.66" width="8.51" height="6.51" fill="#3c4c9f"/>
<rect x="505.30" y="213.87" width="8.51" height="6.51" fill="#3b4b9e"/>
<rect x="505.30" y="220.08" width="8.51" height="6.51" fill="#3b4b9e"/>
<rect x="505.30" y="226.30" width="8.51" height="6.51" fill="#3b4b9e"/>
<rect x="505.30" y="232.51" width="8.51" height="6.51" fill="#3b4b9e"/>
<rect x="505.30" y="238.72" width="8.51" height="6.51" fill="#3b4b9e"/>
<rect x="505.30" y="244.93" width="8.51" height="6.51" fill="#3b4b9e"/>
<rect x="505.30" y="251.14" width="8.51" height="6.51" fill="#3b4b9e"/>
<rect x="505.30" y="257.36" width="8.51" height="6.51" fill="#3b4b9e"/>
<rect x="505.30" y="263.57" width="8.51" height="6.51" fill="#3b4b9e"/>
<rect x="505.30" y="269.78" width="8.51" height="6.51" fill="#3b4b9e"/>
<rect x="505.30" y="275.99" width="8.51" height="6.51" fill="#3b4b9e"/>
<rect x="505.30" y="282.20" width="8.51" height="6.51" fill="#3b4b9e"/>
<rect x="505.30" y="288.42" width="8.51" height="6.51" fill="#3b4b9e"/>
<rect x="505.30" y="294.63" width="8.51" height="6.51" fill="#3b4b9e"/>
<rect x="505.30" y="300.84" width="8.51" height="6.51" fill="#3b4b9e"/>
<rect x="505.30" y="307.05" width="8.51" height="6.51" fill="#3b4b9e"/>
<rect x="505.30" y="313.26" width="8.51" height="6.51" fill="#3b4b9e"/>
<rect x="505.30" y="319.48" width="8.51" height="6.51" fill="#3b4b9e"/>
<rect x="505.30" y="325.69" width="8.51" height="6.51" fill="#3b4b9e"/>
<rect x="513.51" y="21.30" width="8.51" height="6.51" fill="#405cac"/>
<rect x="513.51" y="27.51" width="8.51" height="6.51" fill="#405cac"/>
<rect x="513.51" y="33.72" width="8.51" height="6.51" fill="#405aaa"/>
<rect x="513.51" y="39.94" width="8.51" height="6.51" fill="#405aaa"/>
<rect x="513.51" y="46.15" width="8.51" height="6.51" fill="#405aaa"/>
<rect x="513.51" y="52.36" width="8.51" height="6.51" fill="#405aaa"/>
<rect x="513.51" y="58.57" width="8.51" height="6.51" fill="#405aaa"/>
<rect x="513.51" y="64.78" width="8.51" height="6.51" fill="#405aaa"/>
<rect x="513.51" y="71.00" width="8.51" height="6.51" fill="#405aaa"/>
<rect x="513.51" y="77.21" width="8.51" height="6.51" fill="#405cac"/>
<rect x="513.51" y="83.42" width="8.51" height="6.51" fill="#405cac"/>
<rect x="513.51" y="89.63" width="8.51" height="6.51" fill="#405cac"/>
<rect x="513.51" y="95.84" width="8.51" height="6.51" fill="#405cac"/>
<rect x="513.51" y="102.06" width="8.51" height="6.51" fill="#4060b0"/>
<rect x="513.51" y="108.27" width="8.51" height="6.51" fill="#3685cd"/>
<rect x="513.51" y="114.48" width="8.51" height="6.51" fill="#10b0d8"/>
<rect x="513.51" y="120.69" width="8.51" height="6.51" fill="#20b8c0"/>
<rect x="513.51" y="126.90" width="8.51" height="6.51" fill="#63b97d"/>
<rect x="513.51" y="133.12" width="8.51" height="6.51" fill="#76ba6b"/>
<rect x="513.51" y="139.33" width="8.51" height="6.51" fill="#76ba6b"/>
<rect x="513.51" y="145.54" width="8.51" height="6.51" fill="#90bc59"/>
<rect x="513.51" y="151.75" width="8.51" height="6.51" fill="#83bb62"/>
<rect x="513.51" y="157.96" width="8.51" height="6.51" fill="#50b890"/>
<rect x="513.51" y="164.18" width="8.51" height="6.51" fill="#10b0d8"/>
<rect x="513.51" y="170.39" width="8.51" height="6.51" fill="#1d9cdf"/>
<rect x="513.51" y="176.60" width="8.51" height="6.51" fill="#3d7ac4"/>
<rect x="513.51" y="182.81" width="8.51" height="6.51" fill="#4068b8"/>
<rect x="513.51" y="189.02" width="8.51" height="6.51" fill="#405eae"/>
<rect x="513.51" y="195.24" width="8.51" height="6.51" fill="#3f55a6"/>
<rect x="513.51" y="201.45" width="8.51" height="6.51" fill="#3c4fa1"/>
<rect x="513.51" y="207.66" width="8.51" height="6.51" fill="#3c4c9f"/>
<rect x="513.51" y="213.87" width="8.51" height="6.51" fill="#3b4b9e"/>
<rect x="513.51" y="220.08" width="8.51" height="6.51" fill="#3b4b9e"/>
<rect x="513.51" y="226.30" width="8.51" height="6.51" fill="#3b4b9e"/>
<rect x="513.51" y="232.51" width="8.51" height="6.51" fill="#3b4b9e"/>
<rect x="513.51" y="238.72" width="8.51" height="6.51" fill="#3b4b9e"/>
<rect x="513.51" y="244.93" width="8.51" height="6.51" fill="#3b4b9e"/>
<rect x="513.51" y="251.14" width="8.51" height="6.51" fill="#3b4b9e"/>
<rect x="513.51" y="257.36" width="8.51" height="6.51" fill="#3b4b9e"/>
<rect x="513.51" y="263.57" width="8.51" height="6.51" fill="#3b4b9e"/>
<rect x="513.51" y="269.78" width="8.51" height="6.51" fill="#3b4b9e"/>
<rect x="513.51" y="275.99" width="8.51" height="6.51" fill="#3b4b9e"/>
<rect x="513.51" y="282.20" width="8.51" height="6.51" fill="#3b4b9e"/>
<rect x="513.51" y="288.42" width="8.51" height="6.51" fill="#3b4b9e"/>
<rect x="513.51" y="294.63" width="8.51" height="6.51" fill="#3b4b9e"/>
<rect x="513.51" y="300.84" width="8.51" height="6.51" fill="#3b4b9e"/>
<rect x="513.51" y="307.05" width="8.51" height="6.51" fill="#3b4b9e"/>
<rect x="513.51" y="313.26" width="8.51" height="6.51" fill="#3b4b9e"/>
<rect x="513.51" y="319.48" width="8.51" height="6.51" fill="#3b4b9e"/>
<rect x="513.51" y="325.69" width="8.51" height="6.51" fill="#3b4b9e"/>
<rect x="521.73" y="21.30" width="8.51" height="6.51" fill="#405cac"/>
<rect x="521.73" y="27.51" width="8.51" height="6.51" fill="#405cac"/>
<rect x="521.73" y="33.72" width="8.51" height="6.51" fill="#405aaa"/>
<rect x="521.73" y="39.94" width="8.51" height="6.51" fill="#405aaa"/>
<rect x="521.73" y="46.15" width="8.51" height="6.51" fill="#405aaa"/>
<rect x="521.73" y="52.36" width="8.51" height="6.51" fill="#405aaa"/>
<rect x="521.73" y="58.57" width="8.51" height="6.51" fill="#405aaa"/>
<rect x="521.73" y="64.78" width="8.51" height="6.51" fill="#405aaa"/>
<rect x="521.73" y="71.00" width="8.51" height="6.51" fill="#405aaa"/>
<rect x="521.73" y="77.21" width="8.51" height="6.51" fill="#405cac"/>
<rect x="521.73" y="83.42" width="8.51" height="6.51" fill="#405cac"/>
<rect x="521.73" y="89.63" width="8.51" height="6.51" fill="#405cac"/>
<rect x="521.73" y="95.84" width="8.51" height="6.51" fill="#405cac"/>
<rect x="521.73" y="102.06" width="8.51" height="6.51" fill="#4060b0"/>
<rect x="521.73" y="108.27" width="8.51" height="6.51" fill="#3c7dc6"/>
<rect x="521.73" y="114.48" width="8.51" height="6.51" fill="#18a4dc"/>
<rect x="521.73" y="120.69" width="8.51" height="6.51" fill="#10b0d8"/>
<rect x="521.73" y="126.90" width="8.51" height="6.51" fill="#45b89b"/>
<rect x="521.73" y="133.12" width="8.51" height="6.51" fill="#50b890"/>
<rect x="521.73" y="139.33" width="8.51" height="6.51" fill="#50b890"/>
<rect x="521.73" y="145.54" width="8.51" height="6.51" fill="#63b97d"/>
<rect x="521.73" y="151.75" width="8.51" height="6.51" fill="#50b890"/>
<rect x="521.73" y="157.96" width="8.51" height="6.51" fill="#45b89b"/>
<rect x="521.73" y="164.18" width="8.51" height="6.51" fill="#16b3ce"/>
<rect x="521.73" y="170.39" width="8.51" height="6.51" fill="#18a4dc"/>
<rect x="521.73" y="176.60" width="8.51" height="6.51" fill="#3c80c8"/>
<rect x="521.73" y="182.81" width="8.51" height="6.51" fill="#4068b8"/>
<rect x="521.73" y="189.02" width="8.51" height="6.51" fill="#405eae"/>
<rect x="521.73" y="195.24" width="8.51" height="6.51" fill="#3f55a6"/>
<rect x="521.73" y="201.45" width="8.51" height="6.51" fill="#3c4fa1"/>
<rect x="521.73" y="207.66" width="8.51" height="6.51" fill="#3c4c9f"/>
<rect x="521.73" y="213.87" width="8.51" height="6.51" fill="#3b4b9e"/>
<rect x="521.73" y="220.08" width="8.51" height="6.51" fill="#3b4b9e"/>
<rect x="521.73" y="226.30" width="8.51" height="6.51" fill="#3b4b9e"/>
<rect x="521.73" y="232.51" width="8.51" height="6.51" fill="#3b4b9e"/>
<rect x="521.73" y="238.72" width="8.51" height="6.51" fill="#3b4b9e"/>
<rect x="521.73" y="244.93" width="8.51" height="6.51" fill="#3b4b9e"/>
<rect x="521.73" y="251.14" width="8.51" height="6.51" fill="#3b4b9e"/>
<rect x="521.73" y="257.36" width="8.51" height="6.51" fill="#3b4b9e"/>
<rect x="521.73" y="263.57" width="8.51" height="6.51" fill="#3b4b9e"/>
<rect x="521.73" y="269.78" width="8.51" height="6.51" fill="#3b4b9e"/>
<rect x="521.73" y="275.99" width="8.51" height="6.51" fill="#3b4b9e"/>
<rect x="521.73" y="282.20" width="8.51" height="6.51" fill="#3b4b9e"/>
<rect x="521.73" y="288.42" width="8.51" height="6.51" fill="#3b4b9e"/>
<rect x="521.73" y="294.63" width="8.51" height="6.51" fill="#3b4b9e"/>
<rect x="521.73" y="300.84" width="8.51" height="6.51" fill="#3b4b9e"/>
<rect x="521.73" y="307.05" width="8.51" height="6.51" fill="#3b4b9e"/>
<rect x="521.73" y="313.26" width="8.51" height="6.51" fill="#3b4b9e"/>
<rect x="521.73" y="319.48" width="8.51" height="6.51" fill="#3b4b9e"/>
<rect x="521.73" y="325.69" width="8.51" height="6.51" fill="#3b4b9e"/>
<rect x="529.94" y="21.30" width="8.51" height="6.51" fill="#405eae"/>
<rect x="529.94" y="27.51" width="8.51" height="6.51" fill="#405eae"/>
<rect x="529.94" y="33.72" width="8.51" height="6.51" fill="#405cac"/>
<rect x="529.94" y="39.94" width="8.51" height="6.51" fill="#405cac"/>
<rect x="529.94" y="46.15" width="8.51" height="6.51" fill="#405cac"/>
<rect x="529.94" y="52.36" width="8.51" height="6.51" fill="#405cac"/>
<rect x="529.94" y="58.57" width="8.51" height="6.51" fill="#405cac"/>
<rect x="529.94" y="64.78" width="8.51" height="6.51" fill="#405cac"/>
<rect x="529.94" y="71.00" width="8.51" height="6.51" fill="#405cac"/>
<rect x="529.94" y="77.21" width="8.51" height="6.51" fill="#405eae"/>
<rect x="529.94" y="83.42" width="8.51" height="6.51" fill="#405eae"/>
<rect x="529.94" y="89.63" width="8.51" height="6.51" fill="#405eae"/>
<rect x="529.94" y="95.84" width="8.51" height="6.51" fill="#405cac"/>
<rect x="529.94" y="102.06" width="8.51" height="6.51" fill="#4060b0"/>
<rect x="529.94" y="108.27" width="8.51" height="6.51" fill="#3d7ac4"/>
<rect x="529.94" y="114.48" width="8.51" height="6.51" fill="#2c8dd5"/>
<rect x="529.94" y="120.69" width="8.51" height="6.51" fill="#18a4dc"/>
<rect x="529.94" y="126.90" width="8.51" height="6.51" fill="#1ab5ca"/>
<rect x="529.94" y="133.12" width="8.51" height="6.51" fill="#28b8b8"/>
<rect x="529.94" y="139.33" width="8.51" height="6.51" fill="#45b89b"/>
<rect x="529.94" y="145.54" width="8.51" height="6.51" fill="#50b890"/>
<rect x="529.94" y="151.75" width="8.51" height="6.51" fill="#63b97d"/>
<rect x="529.94" y="157.96" width="8.51" height="6.51" fill="#50b890"/>
<rect x="529.94" y="164.18" width="8.51" height="6.51" fill="#1db6c5"/>
<rect x="529.94" y="170.39" width="8.51" height="6.51" fill="#10b0d8"/>
<rect x="529.94" y="176.60" width="8.51" height="6.51" fill="#2c8dd5"/>
<rect x="529.94" y="182.81" width="8.51" height="6.51" fill="#3c7dc6"/>
<rect x="529.94" y="189.02" width="8.51" height="6.51" fill="#406bba"/>
<rect x="529.94" y="195.24" width="8.51" height="6.51" fill="#4062b2"/>
<rect x="529.94" y="201.45" width="8.51" height="6.51" fill="#405cac"/>
<rect x="529.94" y="207.66" width="8.51" height="6.51" fill="#3f55a6"/>
<rect x="529.94" y="213.87" width="8.51" height="6.51" fill="#3d50a2"/>
<rect x="529.94" y="220.08" width="8.51" height="6.51" fill="#3c4da0"/>
<rect x="529.94" y="226.30" width="8.51" height="6.51" fill="#3b4b9e"/>
<rect x="529.94" y="232.51" width="8.51" height="6.51" fill="#3b4b9e"/>
<rect x="529.94" y="238.72" width="8.51" height="6.51" fill="#3b4b9e"/>
<rect x="529.94" y="244.93" width="8.51" height="6.51" fill="#3b4b9e"/>
<rect x="529.94" y="251.14" width="8.51" height="6.51" fill="#3b4b9e"/>
<rect x="529.94" y="257.36" width="8.51" height="6.51" fill="#3b4b9e"/>
<rect x="529.94" y="263.57" width="8.51" height="6.51" fill="#3b4b9e"/>
<rect x="529.94" y="269.78" width="8.51" height="6.51" fill="#3b4b9e"/>
<rect x="529.94" y="275.99" width="8.51" height="6.51" fill="#3b4b9e"/>
<rect x="529.94" y="282.20" width="8.51" height="6.51" fill="#3b4b9e"/>
<rect x="529.94" y="288.42" width="8.51" height="6.51" fill="#3b4b9e"/>
<rect x="529.94" y="294.63" width="8.51" height="6.51" fill="#3b4b9e"/>
<rect x="529.94" y="300.84" width="8.51" height="6.51" fill="#3b4b9e"/>
<rect x="529.94" y="307.05" width="8.51" height="6.51" fill="#3b4b9e"/>
<rect x="529.94" y="313.26" width="8.51" height="6.51" fill="#3b4b9e"/>
<rect x="529.94" y="319.48" width="8.51" height="6.51" fill="#3b4b9e"/>
<rect x="529.94" y="325.69" width="8.51" height="6.51" fill="#3b4b9e"/>
<rect x="538.16" y="21.30" width="8.51" height="6.51" fill="#405eae"/>
<rect x="538.16" y="27.51" width="8.51" height="6.51" fill="#405eae"/>
<rect x="538.16" y="33.72" width="8.51" height="6.51" fill="#405cac"/>
<rect x="538.16" y="39.94" width="8.51" height="6.51" fill="#405cac"/>
<rect x="538.16" y="46.15" width="8.51" height="6.51" fill="#405cac"/>
<rect x="538.16" y="52.36" width="8.51" height="6.51" fill="#405cac"/>
<rect x="538.16" y="58.57" width="8.51" height="6.51" fill="#405cac"/>
<rect x="538.16" y="64.78" width="8.51" height="6.51" fill="#405cac"/>
<rect x="538.16" y="71.00" width="8.51" height="6.51" fill="#405cac"/>
<rect x="538.16" y="77.21" width="8.51" height="6.51" fill="#405eae"/>
<rect x="538.16" y="83.42" width="8.51" height="6.51" fill="#405eae"/>
<rect x="538.16" y="89.63" width="8.51" height="6.51" fill="#405eae"/>
<rect x="538.16" y="95.84" width="8.51" height="6.51" fill="#405cac"/>
<rect x="538.16" y="102.06" width="8.51" height="6.51" fill="#4060b0"/>
<rect x="538.16" y="108.27" width="8.51" height="6.51" fill="#3d7ac4"/>
<rect x="538.16" y="114.48" width="8.51" height="6.51" fill="#2c8dd5"/>
<rect x="538.16" y="120.69" width="8.51" height="6.51" fill="#18a4dc"/>
<rect x="538.16" y="126.90" width="8.51" height="6.51" fill="#1ab5ca"/>
<rect x="538.16" y="133.12" width="8.51" height="6.51" fill="#28b8b8"/>
<rect x="538.16" y="139.33" width="8.51" height="6.51" fill="#45b89b"/>
<rect x="538.16" y="145.54" width="8.51" height="6.51" fill="#5db983"/>
<rect x="538.16" y="151.75" width="8.51" height="6.51" fill="#63b97d"/>
<rect x="538.16" y="157.96" width="8.51" height="6.51" fill="#50b890"/>
<rect x="538.16" y="164.18" width="8.51" height="6.51" fill="#1db6c5"/>
<rect x="538.16" y="170.39" width="8.51" height="6.51" fill="#10b0d8"/>
<rect x="538.16" y="176.60" width="8.51" height="6.51" fill="#2c8dd5"/>
<rect x="538.16" y="182.81" width="8.51" height="6.51" fill="#3c7dc6"/>
<rect x="538.16" y="189.02" width="8.51" height="6.51" fill="#406bba"/>
<rect x="538.16" y="195.24" width="8.51" height="6.51" fill="#4062b2"/>
<rect x="538.16" y="201.45" width="8.51" height="6.51" fill="#405cac"/>
<rect x="538.16" y="207.66" width="8.51" height="6.51" fill="#3f55a6"/>
<rect x="538.16" y="213.87" width="8.51" height="6.51" fill="#3d50a2"/>
<rect x="538.16" y="220.08" width="8.51" height="6.51" fill="#3c4da0"/>
<rect x="538.16" y="226.30" width="8.51" height="6.51" fill="#3b4b9e"/>
<rect x="538.16" y="232.51" width="8.51" height="6.51" fill="#3b4b9e"/>
<rect x="538.16" y="238.72" width="8.51" height="6.51" fill="#3b4b9e"/>
<rect x="538.16" y="244.93" width="8.51" height="6.51" fill="#3b4b9e"/>
<rect x="538.16" y="251.14" width="8.51" height="6.51" fill="#3b4b9e"/>
<rect x="538.16" y="257.36" width="8.51" height="6.51" fill="#3b4b9e"/>
<rect x="538.16" y="263.57" width="8.51" height="6.51" fill="#3b4b9e"/>
<rect x="538.16" y="269.78" width="8.51" height="6.51" fill="#3b4b9e"/>
<rect x="538.16" y="275.99" width="8.51" height="6.51" fill="#3b4b9e"/>
<rect x="538.16" y="282.20" width="8.51" height="6.51" fill="#3b4b9e"/>
<rect x="538.16" y="288.42" width="8.51" height="6.51" fill="#3b4b9e"/>
<rect x="538.16" y="294.63" width="8.51" height="6.51" fill="#3b4b9e"/>
<rect x="538.16" y="300.84" width="8.51" height="6.51" fill="#3b4b9e"/>
<rect x="538.16" y="307.05" width="8.51" height="6.51" fill="#3b4b9e"/>
<rect x="538.16" y="313.26" width="8.51" height="6.51" fill="#3b4b9e"/>
<rect x="538.16" y="319.48" width="8.51" height="6.51" fill="#3b4b9e"/>
<rect x="538.16" y="325.69" width="8.51" height="6.51" fill="#3b4b9e"/>
<rect x="546.37" y="21.30" width="8.51" height="6.51" fill="#405eae"/>
<rect x="546.37" y="27.51" width="8.51" height="6.51" fill="#405eae"/>
<rect x="546.37" y="33.72" width="8.51" height="6.51" fill="#405cac"/>
<rect x="546.37" y="39.94" width="8.51" height="6.51" fill="#405cac"/>
<rect x="546.37" y="46.15" width="8.51" height="6.51" fill="#405cac"/>
<rect x="546.37" y="52.36" width="8.51" height="6.51" fill="#405cac"/>
<rect x="546.37" y="58.57" width="8.51" height="6.51" fill="#405cac"/>
<rect x="546.37" y="64.78" width="8.51" height="6.51" fill="#405cac"/>
<rect x="546.37" y="71.00" width="8.51" height="6.51" fill="#405cac"/>
<rect x="546.37" y="77.21" width="8.51" height="6.51" fill="#405eae"/>
<rect x="546.37" y="83.42" width="8.51" height="6.51" fill="#405eae"/>
<rect x="546.37" y="89.63" width="8.51" height="6.51" fill="#405eae"/>
<rect x="546.37" y="95.84" width="8.51" height="6.51" fill="#405cac"/>
<rect x="546.37" y="102.06" width="8.51" height="6.51" fill="#4060b0"/>
<rect x="546.37" y="108.27" width="8.51" height="6.51" fill="#3d7ac4"/>
<rect x="546.37" y="114.48" width="8.51" height="6.51" fill="#2c8dd5"/>
<rect x="546.37" y="120.69" width="8.51" height="6.51" fill="#18a4dc"/>
<rect x="546.37" y="126.90" width="8.51" height="6.51" fill="#1ab5ca"/>
<rect x="546.37" y="133.12" width="8.51" height="6.51" fill="#28b8b8"/>
<rect x="546.37" y="139.33" width="8.51" height="6.51" fill="#45b89b"/>
<rect x="546.37" y="145.54" width="8.51" height="6.51" fill="#50b890"/>
<rect x="546.37" y="151.75" width="8.51" height="6.51" fill="#63b97d"/>
<rect x="546.37" y="157.96" width="8.51" height="6.51" fill="#50b890"/>
<rect x="546.37" y="164.18" width="8.51" height="6.51" fill="#1db6c5"/>
<rect x="546.37" y="170.39" width="8.51" height="6.51" fill="#10b0d8"/>
<rect x="546.37" y="176.60" width="8.51" height="6.51" fill="#2693db"/>
<rect x="546.37" y="182.81" width="8.51" height="6.51" fill="#3c7dc6"/>
<rect x="546.37" y="189.02" width="8.51" height="6.51" fill="#406bba"/>
<rect x="546.37" y="195.24" width="8.51" height="6.51" fill="#4062b2"/>
<rect x="546.37" y="201.45" width="8.51" height="6.51" fill="#405cac"/>
<rect x="546.37" y="207.66" width="8.51" height="6.51" fill="#3f55a6"/>
<rect x="546.37" y="213.87" width="8.51" height="6.51" fill="#3d50a2"/>
<rect x="546.37" y="220.08" width="8.51" height="6.51" fill="#3c4da0"/>
<rect x="546.37" y="226.30" width="8.51" height="6.51" fill="#3b4b9e"/>
<rect x="546.37" y="232.51" width="8.51" height="6.51" fill="#3b4b9e"/>
<rect x="546.37" y="238.72" width="8.51" height="6.51" fill="#3b4b9e"/>
<rect x="546.37" y="244.93" width="8.51" height="6.51" fill="#3b4b9e"/>
<rect x="546.37" y="251.14" width="8.51" height="6.51" fill="#3b4b9e"/>
<rect x="546.37" y="257.36" width="8.51" height="6.51" fill="#3b4b9e"/>
<rect x="546.37" y="263.57" width="8.51" height="6.51" fill="#3b4b9e"/>
<rect x="546.37" y="269.78" width="8.51" height="6.51" fill="#3b4b9e"/>
<rect x="546.37" y="275.99" width="8.51" height="6.51" fill="#3b4b9e"/>
<rect x="546.37" y="282.20" width="8.51" height="6.51" fill="#3b4b9e"/>
<rect x="546.37" y="288.42" width="8.51" height="6.51" fill="#3b4b9e"/>
<rect x="546.37" y="294.63" width="8.51" height="6.51" fill="#3b4b9e"/>
<rect x="546.37" y="300.84" width="8.51" height="6.51" fill="#3b4b9e"/>
<rect x="546.37" y="307.05" width="8.51" height="6.51" fill="#3b4b9e"/>
<rect x="546.37" y="313.26" width="8.51" height="6.51" fill="#3b4b9e"/>
<rect x="546.37" y="319.48" width="8.51" height="6.51" fill="#3b4b9e"/>
<rect x="546.37" y="325.69" width="8.51" height="6.51" fill="#3b4b9e"/>
<rect x="554.59" y="21.30" width="8.51" height="6.51" fill="#4060b0"/>
<rect x="554.59" y="27.51" width="8.51" height="6.51" fill="#4060b0"/>
<rect x="554.59" y="33.72" width="8.51" height="6.51" fill="#405eae"/>
<rect x="554.59" y="39.94" width="8.51" height="6.51" fill="#405eae"/>
<rect x="554.59" y="46.15" width="8.51" height="6.51" fill="#405eae"/>
<rect x="554.59" y="52.36" width="8.51" height="6.51" fill="#405eae"/>
<rect x="554.59" y="58.57" width="8.51" height="6.51" fill="#405eae"/>
<rect x="554.59" y="64.78" width="8.51" height="6.51" fill="#405eae"/>
<rect x="554.59" y="71.00" width="8.51" height="6.51" fill="#405eae"/>
<rect x="554.59" y="77.21" width="8.51" height="6.51" fill="#4060b0"/>
<rect x="554.59" y="83.42" width="8.51" height="6.51" fill="#4060b0"/>
<rect x="554.59" y="89.63" width="8.51" height="6.51" fill="#4060b0"/>
<rect x="554.59" y="95.84" width="8.51" height="6.51" fill="#405cac"/>
<rect x="554.59" y="102.06" width="8.51" height="6.51" fill="#4060b0"/>
<rect x="554.59" y="108.27" width="8.51" height="6.51" fill="#3d7ac4"/>
<rect x="554.59" y="114.48" width="8.51" height="6.51" fill="#2c8dd5"/>
<rect x="554.59" y="120.69" width="8.51" height="6.51" fill="#18a4dc"/>
<rect x="554.59" y="126.90" width="8.51" height="6.51" fill="#1ab5ca"/>
<rect x="554.59" y="133.12" width="8.51" height="6.51" fill="#28b8b8"/>
<rect x="554.59" y="139.33" width="8.51" height="6.51" fill="#45b89b"/>
<rect x="554.59" y="145.54" width="8.51" height="6.51" fill="#45b89b"/>
<rect x="554.59" y="151.75" width="8.51" height="6.51" fill="#45b89b"/>
<rect x="554.59" y="157.96" width="8.51" height="6.51" fill="#45b89b"/>
<rect x="554.59" y="164.18" width="8.51" height="6.51" fill="#1db6c5"/>
<rect x="554.59" y="170.39" width="8.51" height="6.51" fill="#10b0d8"/>
<rect x="554.59" y="176.60" width="8.51" height="6.51" fill="#2693db"/>
<rect x="554.59" y="182.81" width="8.51" height="6.51" fill="#3c7dc6"/>
<rect x="554.59" y="189.02" width="8.51" height="6.51" fill="#3e71be"/>
<rect x="554.59" y="195.24" width="8.51" height="6.51" fill="#4066b6"/>
<rect x="554.59" y="201.45" width="8.51" height="6.51" fill="#4060b0"/>
<rect x="554.59" y="207.66" width="8.51" height="6.51" fill="#4058a8"/>
<rect x="554.59" y="213.87" width="8.51" height="6.51" fill="#3e53a4"/>
<rect x="554.59" y="220.08" width="8.51" height="6.51" fill="#3c4da0"/>
<rect x="554.59" y="226.30" width="8.51" height="6.51" fill="#3b4b9e"/>
<rect x="554.59" y="232.51" width="8.51" height="6.51" fill="#3b4b9e"/>
<rect x="554.59" y="238.72" width="8.51" height="6.51" fill="#3b4b9e"/>
<rect x="554.59" y="244.93" width="8.51" height="6.51" fill="#3b4b9e"/>
<rect x="554.59" y="251.14" width="8.51" height="6.51" fill="#3b4b9e"/>
<rect x="554.59" y="257.36" width="8.51" height="6.51" fill="#3b4b9e"/>
<rect x="554.59" y="263.57" width="8.51" height="6.51" fill="#3b4b9e"/>
<rect x="554.59" y="269.78" width="8.51" height="6.51" fill="#3b4b9e"/>
<rect x="554.59" y="275.99" width="8.51" height="6.51" fill="#3b4b9e"/>
<rect x="554.59" y="282.20" width="8.51" height="6.51" fill="#3b4b9e"/>
<rect x="554.59" y="288.42" width="8.51" height="6.51" fill="#3b4b9e"/>
<rect x="554.59" y="294.63" width="8.51" height="6.51" fill="#3b4b9e"/>
<rect x="554.59" y="300.84" width="8.51" height="6.51" fill="#3b4b9e"/>
<rect x="554.59" y="307.05" width="8.51" height="6.51" fill="#3b4b9e"/>
<rect x="554.59" y="313.26" width="8.51" height="6.51" fill="#3b4b9e"/>
<rect x="554.59" y="319.48" width="8.51" height="6.51" fill="#3b4b9e"/>
<rect x="554.59" y="325.69" width="8.51" height="6.51" fill="#3b4b9e"/>
</g>
<path d="M394.95,21.3 V108 M394.95,183 V331.9 M562.25,21.3 V108 M562.25,195 V331.9 M394.4,331.29999999999995 H562.8 M394.4,21.8 H562.8" fill="none" stroke="#2a3a9e" stroke-width="1.1"/>
<path d="M402.61,21.3 v2.8 M402.61,331.9 v-2.8 M410.83,21.3 v2.8 M410.83,331.9 v-2.8 M419.04,21.3 v2.8 M419.04,331.9 v-2.8 M427.26,21.3 v2.8 M427.26,331.9 v-2.8 M435.47,21.3 v5.5 M435.47,331.9 v-5.5 M443.69,21.3 v2.8 M443.69,331.9 v-2.8 M451.90,21.3 v2.8 M451.90,331.9 v-2.8 M460.12,21.3 v2.8 M460.12,331.9 v-2.8 M468.33,21.3 v2.8 M468.33,331.9 v-2.8 M476.55,21.3 v5.5 M476.55,331.9 v-5.5 M484.76,21.3 v2.8 M484.76,331.9 v-2.8 M492.98,21.3 v2.8 M492.98,331.9 v-2.8 M501.19,21.3 v2.8 M501.19,331.9 v-2.8 M509.40,21.3 v2.8 M509.40,331.9 v-2.8 M517.62,21.3 v5.5 M517.62,331.9 v-5.5 M525.83,21.3 v2.8 M525.83,331.9 v-2.8 M534.05,21.3 v2.8 M534.05,331.9 v-2.8 M542.26,21.3 v2.8 M542.26,331.9 v-2.8 M550.48,21.3 v2.8 M550.48,331.9 v-2.8 M558.69,21.3 v5.5 M558.69,331.9 v-5.5 M394.4,42.01 h3 M562.8,42.01 h-3 M394.4,62.71 h3 M562.8,62.71 h-3 M394.4,83.42 h3 M562.8,83.42 h-3 M394.4,104.13 h3 M562.8,104.13 h-3 M394.4,124.83 h6 M562.8,124.83 h-6 M394.4,145.54 h3 M562.8,145.54 h-3 M394.4,166.25 h3 M562.8,166.25 h-3 M394.4,186.95 h3 M562.8,186.95 h-3 M394.4,207.66 h3 M562.8,207.66 h-3 M394.4,228.37 h6 M562.8,228.37 h-6 M394.4,249.07 h3 M562.8,249.07 h-3 M394.4,269.78 h3 M562.8,269.78 h-3 M394.4,290.49 h3 M562.8,290.49 h-3 M394.4,311.19 h3 M562.8,311.19 h-3" stroke="#fff" stroke-width="1.2"/>
<defs><linearGradient id="cb" x1="0" y1="1" x2="0" y2="0"><stop offset="0" stop-color="#3a48a0"/><stop offset="0.14" stop-color="#4058a8"/><stop offset="0.3" stop-color="#3c78c8"/><stop offset="0.38" stop-color="#2098e0"/><stop offset="0.43" stop-color="#10b0d0"/><stop offset="0.54" stop-color="#40b890"/><stop offset="0.7" stop-color="#a0c050"/><stop offset="0.84" stop-color="#f0b040"/><stop offset="0.93" stop-color="#f0e038"/><stop offset="1" stop-color="#f5f53e"/></linearGradient></defs>
<rect x="569.3" y="20.8" width="8.8" height="311.3" fill="url(#cb)" stroke="#222" stroke-width="1"/>
<path d="M412.4,210.8 V246.4 M410.2,210.8 H414.6 M410.2,246.4 H414.6" stroke="#fff" stroke-width="1.2"/>
<circle cx="412.4" cy="228.5" r="1" fill="#fff"/>
<text x="418.3" y="233" font-size="9.6" fill="#fff" stroke="#fff" stroke-width="0.2">Energy resolution</text>
<path d="M412.5,90.6 V150.8 M410.20,90.6 H414.80 M410.20,150.80 H414.80" stroke="#fff" stroke-width="1.1"/>
<circle cx="412.5" cy="120.7" r="2.9" fill="none" stroke="#fff" stroke-width="1.0"/>
<path d="M443.3,94.3 V147.7 M441.00,94.3 H445.60 M441.00,147.70 H445.60" stroke="#fff" stroke-width="1.1"/>
<circle cx="443.3" cy="121" r="2.9" fill="none" stroke="#fff" stroke-width="1.0"/>
<path d="M468.4,87.8 V142.2 M466.10,87.8 H470.70 M466.10,142.20 H470.70" stroke="#fff" stroke-width="1.1"/>
<circle cx="468.4" cy="115" r="2.9" fill="none" stroke="#fff" stroke-width="1.0"/>
<path d="M484.8,81.8 V141.0 M482.50,81.8 H487.10 M482.50,141.00 H487.10" stroke="#fff" stroke-width="1.1"/>
<circle cx="484.8" cy="111.4" r="2.9" fill="none" stroke="#fff" stroke-width="1.0"/>
<path d="M492.9,79.9 V132.5 M490.60,79.9 H495.20 M490.60,132.50 H495.20" stroke="#fff" stroke-width="1.1"/>
<circle cx="492.9" cy="106.2" r="2.9" fill="none" stroke="#fff" stroke-width="1.0"/>
<path d="M501.1,77.5 V129.1 M498.80,77.5 H503.40 M498.80,129.10 H503.40" stroke="#fff" stroke-width="1.1"/>
<circle cx="501.1" cy="103.3" r="2.9" fill="none" stroke="#fff" stroke-width="1.0"/>
<path d="M509.3,83.5 V125.5 M507.00,83.5 H511.60 M507.00,125.50 H511.60" stroke="#fff" stroke-width="1.1"/>
<circle cx="509.3" cy="104.5" r="2.9" fill="none" stroke="#fff" stroke-width="1.0"/>
<path d="M518,82.3 V134.89999999999998 M515.70,82.3 H520.30 M515.70,134.90 H520.30" stroke="#fff" stroke-width="1.1"/>
<circle cx="518" cy="108.6" r="2.9" fill="none" stroke="#fff" stroke-width="1.0"/>
<path d="M526.2,85.2 V121.39999999999999 M523.90,85.2 H528.50 M523.90,121.40 H528.50" stroke="#fff" stroke-width="1.1"/>
<circle cx="526.2" cy="103.3" r="2.9" fill="none" stroke="#fff" stroke-width="1.0"/>
<path d="M412.5,134.6 V171.6 M410.40,134.6 H414.60 M410.40,171.60 H414.60" stroke="#e8433a" stroke-width="1.15"/>
<path d="M412.5,149.50 L415.90,153.1 L412.5,156.70 L409.10,153.1 Z" fill="none" stroke="#e8433a" stroke-width="1.05"/>
<circle cx="412.5" cy="153.1" r="1.4" fill="none" stroke="#e8433a" stroke-width="0.5"/>
<path d="M443.3,132.1 V169.9 M441.20,132.1 H445.40 M441.20,169.90 H445.40" stroke="#e8433a" stroke-width="1.15"/>
<path d="M443.3,147.40 L446.70,151 L443.3,154.60 L439.90,151 Z" fill="none" stroke="#e8433a" stroke-width="1.05"/>
<circle cx="443.3" cy="151" r="1.4" fill="none" stroke="#e8433a" stroke-width="0.5"/>
<path d="M468.4,128 V168 M466.30,128 H470.50 M466.30,168.00 H470.50" stroke="#e8433a" stroke-width="1.15"/>
<path d="M468.4,144.40 L471.80,148 L468.4,151.60 L465.00,148 Z" fill="none" stroke="#e8433a" stroke-width="1.05"/>
<circle cx="468.4" cy="148" r="1.4" fill="none" stroke="#e8433a" stroke-width="0.5"/>
<path d="M484.8,124.5 V169.3 M482.70,124.5 H486.90 M482.70,169.30 H486.90" stroke="#e8433a" stroke-width="1.15"/>
<path d="M484.8,143.30 L488.20,146.9 L484.8,150.50 L481.40,146.9 Z" fill="none" stroke="#e8433a" stroke-width="1.05"/>
<circle cx="484.8" cy="146.9" r="1.4" fill="none" stroke="#e8433a" stroke-width="0.5"/>
<path d="M492.9,121.5 V169.89999999999998 M490.80,121.5 H495.00 M490.80,169.90 H495.00" stroke="#e8433a" stroke-width="1.15"/>
<path d="M492.9,142.10 L496.30,145.7 L492.9,149.30 L489.50,145.7 Z" fill="none" stroke="#e8433a" stroke-width="1.05"/>
<circle cx="492.9" cy="145.7" r="1.4" fill="none" stroke="#e8433a" stroke-width="0.5"/>
<path d="M501.1,123.8 V170.39999999999998 M499.00,123.8 H503.20 M499.00,170.40 H503.20" stroke="#e8433a" stroke-width="1.15"/>
<path d="M501.1,143.50 L504.50,147.1 L501.1,150.70 L497.70,147.1 Z" fill="none" stroke="#e8433a" stroke-width="1.05"/>
<circle cx="501.1" cy="147.1" r="1.4" fill="none" stroke="#e8433a" stroke-width="0.5"/>
<path d="M509.3,124.5 V178.89999999999998 M507.20,124.5 H511.40 M507.20,178.90 H511.40" stroke="#e8433a" stroke-width="1.15"/>
<path d="M509.3,148.10 L512.70,151.7 L509.3,155.30 L505.90,151.7 Z" fill="none" stroke="#e8433a" stroke-width="1.05"/>
<circle cx="509.3" cy="151.7" r="1.4" fill="none" stroke="#e8433a" stroke-width="0.5"/>
<path d="M518,122 V175.8 M515.90,122 H520.10 M515.90,175.80 H520.10" stroke="#e8433a" stroke-width="1.15"/>
<path d="M518,145.30 L521.40,148.9 L518,152.50 L514.60,148.9 Z" fill="none" stroke="#e8433a" stroke-width="1.05"/>
<circle cx="518" cy="148.9" r="1.4" fill="none" stroke="#e8433a" stroke-width="0.5"/>
<path d="M526.2,119.9 V179.49999999999997 M524.10,119.9 H528.30 M524.10,179.50 H528.30" stroke="#e8433a" stroke-width="1.15"/>
<path d="M526.2,146.10 L529.60,149.7 L526.2,153.30 L522.80,149.7 Z" fill="none" stroke="#e8433a" stroke-width="1.05"/>
<circle cx="526.2" cy="149.7" r="1.4" fill="none" stroke="#e8433a" stroke-width="0.5"/>
<path d="M534.2,122.2 V185.0 M532.10,122.2 H536.30 M532.10,185.00 H536.30" stroke="#e8433a" stroke-width="1.15"/>
<path d="M534.2,150.00 L537.60,153.6 L534.2,157.20 L530.80,153.6 Z" fill="none" stroke="#e8433a" stroke-width="1.05"/>
<circle cx="534.2" cy="153.6" r="1.4" fill="none" stroke="#e8433a" stroke-width="0.5"/>
<path d="M542.6,122.6 V186.4 M540.50,122.6 H544.70 M540.50,186.40 H544.70" stroke="#e8433a" stroke-width="1.15"/>
<path d="M542.6,150.90 L546.00,154.5 L542.6,158.10 L539.20,154.5 Z" fill="none" stroke="#e8433a" stroke-width="1.05"/>
<circle cx="542.6" cy="154.5" r="1.4" fill="none" stroke="#e8433a" stroke-width="0.5"/>
<path d="M550.7,121.5 V189.7 M548.60,121.5 H552.80 M548.60,189.70 H552.80" stroke="#e8433a" stroke-width="1.15"/>
<path d="M550.7,152.00 L554.10,155.6 L550.7,159.20 L547.30,155.6 Z" fill="none" stroke="#e8433a" stroke-width="1.05"/>
<circle cx="550.7" cy="155.6" r="1.4" fill="none" stroke="#e8433a" stroke-width="0.5"/>
<path d="M559.3,127.1 V194.50000000000003 M557.20,127.1 H561.40 M557.20,194.50 H561.40" stroke="#e8433a" stroke-width="1.15"/>
<path d="M559.3,157.20 L562.70,160.8 L559.3,164.40 L555.90,160.8 Z" fill="none" stroke="#e8433a" stroke-width="1.05"/>
<circle cx="559.3" cy="160.8" r="1.4" fill="none" stroke="#e8433a" stroke-width="0.5"/>
<text x="66.3" y="24.3" font-size="13" font-weight="bold" fill="#111" stroke="#111" stroke-width="0.12">a</text>
<text x="66.8" y="177.8" font-size="13" font-weight="bold" fill="#111" stroke="#111" stroke-width="0.12">b</text>
<text x="361.8" y="20.2" font-size="13" font-weight="bold" fill="#111" stroke="#111" stroke-width="0.12">c</text>
<g font-size="10" fill="#111" stroke="#111" stroke-width="0.12" text-anchor="end">
<text x="103.6" y="25.5">0.1</text><text x="105" y="90.8">0.05</text><text x="105" y="156">0.0</text>
<text x="102.8" y="181.8">3.3</text><text x="102.8" y="257">1.65</text><text x="103.7" y="332.8">0.0</text>
</g>
<g font-size="10" fill="#111" stroke="#111" stroke-width="0.12" text-anchor="middle">
<text x="107.70" y="165.2">855</text>
<text x="147.03" y="165.2">856</text>
<text x="186.37" y="165.2">857</text>
<text x="225.70" y="165.2">858</text>
<text x="265.03" y="165.2">859</text>
<text x="304.37" y="165.2">860</text>
<text x="343.70" y="165.2">861</text>
<text x="107.70" y="342.2">−1</text>
<text x="147.05" y="342.2">0</text>
<text x="186.40" y="342.2">1</text>
<text x="225.75" y="342.2">2</text>
<text x="265.10" y="342.2">3</text>
<text x="304.45" y="342.2">4</text>
<text x="343.80" y="342.2">5</text>
</g>
<text transform="translate(74.8,84.3) rotate(-90)" text-anchor="middle" font-size="10.65" fill="#111" stroke="#111" stroke-width="0.12">Intensity (a.u.)</text>
<text transform="translate(73.7,252.5) rotate(-90)" text-anchor="middle" font-size="10.7" fill="#111" stroke="#111" stroke-width="0.12">Intensity (×10<tspan font-size="7" dy="-3.5">5</tspan><tspan dy="3.5"> counts)</tspan></text>
<text x="179.3" y="359.7" font-size="10.3" fill="#111" stroke="#111" stroke-width="0.12">Energy loss (eV)</text>
<text x="256.7" y="49.8" font-size="10.5" fill="#111" stroke="#111" stroke-width="0.12">XAS</text>
<path d="M305.5,37.8 H320" stroke="#111" stroke-width="1.8"/><path d="M305.5,50 H320" stroke="#f02828" stroke-width="1.8"/>
<text x="325" y="41.7" font-size="10.5" fill="#111" stroke="#111" stroke-width="0.12">LV</text><text x="325" y="53.7" font-size="10.5" fill="#111" stroke="#111" stroke-width="0.12">LH</text>
<rect x="133.1" y="130.2" width="52.4" height="16.7" rx="1" fill="#fff" stroke="#a8bde0" stroke-width="1"/>
<rect x="236.4" y="120.4" width="70.2" height="17" rx="1" fill="#fff" stroke="#bba8dc" stroke-width="1"/>
<g font-style="italic" font-size="10.5" fill="#111" stroke="#111" stroke-width="0.12">
<text x="135.4" y="142">d</text><text x="141.8" y="138.4" font-size="6.8" font-style="normal">8</text>
<text x="163" y="142">d</text><text x="170.4" y="138.4" font-size="6.8" font-style="normal">9</text><text x="175" y="142">c</text>
<text x="239" y="131.7">d</text><text x="245.4" y="128.8" font-size="6.8" font-style="normal">9</text><text x="250.3" y="131.7">L</text>
<text x="273.6" y="131.7">d</text><text x="281.2" y="128.8" font-size="6.8" font-style="normal">10</text><text x="290.3" y="131.7">cL</text>
</g>
<path d="M149.9,139.1 H159.2 M156.6,136.9 L159.4,139.1 L156.6,141.3 M260.7,128.6 H270.6 M268,126.4 L270.8,128.6 L268,130.8" fill="none" stroke="#222" stroke-width="0.9"/>
<path d="M175.2,144 H181.5 M250.5,133.9 H256.5 M290.5,133.9 H302.3" stroke="#999" stroke-width="1"/>
<path d="M267.4,190.4 H279.9" stroke="#111" stroke-width="1.8"/><path d="M267.4,203.2 H279.9" stroke="#f02828" stroke-width="1.8"/>
<text x="285.3" y="193.9" font-size="10.85" fill="#111" stroke="#111" stroke-width="0.12">Experiment</text><text x="285.3" y="206.7" font-size="10.9" fill="#111" stroke="#111" stroke-width="0.12">Calculation</text>
<text x="232.8" y="206.9" font-size="9.8" fill="#f02a2a" stroke="#f02a2a" stroke-width="0.2" text-anchor="middle">Zhang-Rice</text><text x="232.8" y="218.8" font-size="9.8" fill="#f02a2a" stroke="#f02a2a" stroke-width="0.2" text-anchor="middle">Singlet</text>
<g font-size="10" fill="#111" stroke="#111" stroke-width="0.12" text-anchor="end">
<text x="388.6" y="25.5">1.6</text><text x="388.7" y="128.8">1.5</text><text x="388.4" y="233.3">1.4</text><text x="388.4" y="336.8">1.3</text>
</g>
<g font-size="10" fill="#111" stroke="#111" stroke-width="0.12" text-anchor="middle">
<text x="393.40" y="344.5">0</text>
<text x="434.47" y="344.5">50</text>
<text x="475.55" y="344.5">100</text>
<text x="516.62" y="344.5">150</text>
<text x="557.69" y="344.5">200</text>
</g>
<text x="441.7" y="359.9" font-size="11" fill="#111" stroke="#111" stroke-width="0.12">Temperature (K)</text>
<text transform="translate(371.3,176.6) rotate(-90) scale(0.93,1)" text-anchor="middle" font-size="9.7" fill="#111" stroke="#111" stroke-width="0.12">Energy loss (eV)</text>
<text x="581.8" y="26.9" font-size="9.9" fill="#111" stroke="#111" stroke-width="0.12">5 × 10<tspan font-size="6.6" dy="-3.9">5</tspan></text>
<text x="582" y="336.8" font-size="10" fill="#111" stroke="#111" stroke-width="0.12">0</text>
<rect x="434.7" y="352" width="0.9" height="1.6" fill="#999"/>
</svg>
</body></html>
